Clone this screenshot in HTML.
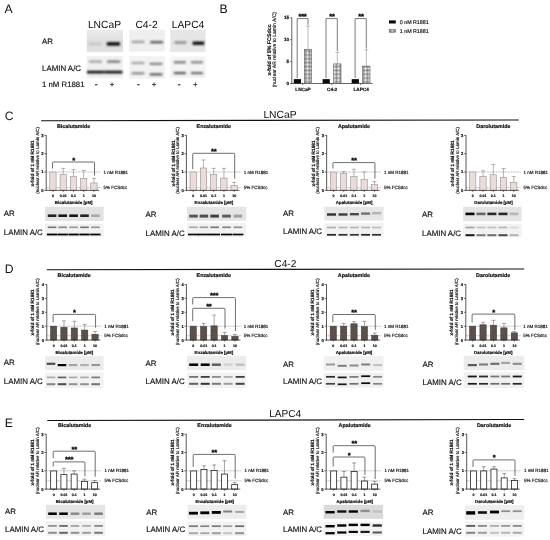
<!DOCTYPE html>
<html lang="en">
<head>
<meta charset="utf-8">
<title>AR nuclear translocation figure</title>
<style>html,body{margin:0;padding:0;background:#fff;}body{width:550px;height:540px;overflow:hidden;}svg{display:block;}</style>
</head>
<body>
<svg width="550" height="540" viewBox="0 0 550 540" font-family="'Liberation Sans', sans-serif" text-rendering="geometricPrecision">
<defs><filter id="b1" x="-10%" y="-50%" width="120%" height="200%"><feGaussianBlur stdDeviation="0.75 0.55"/></filter><filter id="b2" x="-10%" y="-50%" width="120%" height="200%"><feGaussianBlur stdDeviation="1.1 0.8"/></filter><pattern id="hatch" width="1.35" height="1.35" patternUnits="userSpaceOnUse"><rect width="1.35" height="1.35" fill="#fafafa"/><path d="M0 0.3H1.35M0.3 0V1.35" stroke="#555" stroke-width="0.36"/></pattern><linearGradient id="gA" x1="0" y1="0" x2="0" y2="1"><stop offset="0" stop-color="#ececec"/><stop offset="0.55" stop-color="#dedede"/><stop offset="1" stop-color="#e2e2e2"/></linearGradient></defs>
<rect x="0.00" y="0.00" width="550.00" height="540.00" fill="#ffffff"/>
<text x="4.50" y="12.50" font-size="12.2" text-anchor="start" fill="#111">A</text>
<text x="219.40" y="12.50" font-size="12.2" text-anchor="start" fill="#111">B</text>
<text x="4.70" y="120.30" font-size="12.2" text-anchor="start" fill="#111">C</text>
<text x="4.70" y="273.10" font-size="12.2" text-anchor="start" fill="#111">D</text>
<text x="4.70" y="426.60" font-size="12.2" text-anchor="start" fill="#111">E</text>
<text x="104.50" y="27.60" font-size="10.3" text-anchor="middle" fill="#111">LNCaP</text>
<text x="146.60" y="27.60" font-size="10.3" text-anchor="middle" fill="#111">C4-2</text>
<text x="188.00" y="27.60" font-size="10.3" text-anchor="middle" fill="#111">LAPC4</text>
<text x="42.00" y="44.10" font-size="7.9" text-anchor="start" fill="#111" stroke="#111" stroke-width="0.15">AR</text>
<text x="42.00" y="71.20" font-size="7.9" text-anchor="start" fill="#111" stroke="#111" stroke-width="0.15">LAMIN A/C</text>
<text x="42.00" y="87.00" font-size="7.8" text-anchor="start" fill="#111" stroke="#111" stroke-width="0.15">1 nM R1881</text>
<text x="96.20" y="86.90" font-size="8.6" text-anchor="middle" fill="#111" stroke="#111" stroke-width="0.25">-</text>
<text x="138.40" y="86.90" font-size="8.6" text-anchor="middle" fill="#111" stroke="#111" stroke-width="0.25">-</text>
<text x="179.30" y="86.90" font-size="8.6" text-anchor="middle" fill="#111" stroke="#111" stroke-width="0.25">-</text>
<text x="112.00" y="87.40" font-size="7.8" text-anchor="middle" fill="#111" stroke="#111" stroke-width="0.15">+</text>
<text x="154.00" y="87.40" font-size="7.8" text-anchor="middle" fill="#111" stroke="#111" stroke-width="0.15">+</text>
<text x="195.40" y="87.40" font-size="7.8" text-anchor="middle" fill="#111" stroke="#111" stroke-width="0.15">+</text>
<rect x="86.80" y="29.80" width="36.20" height="22.30" fill="url(#gA)"/>
<g filter="url(#b2)">
<rect x="88.50" y="42.70" width="13.00" height="2.40" fill="#050505" opacity="0.12"/>
<rect x="106.90" y="42.25" width="13.00" height="3.30" fill="#050505" opacity="1.00"/>
</g>
<rect x="86.80" y="55.90" width="36.20" height="22.30" fill="#f1f1f1"/>
<g filter="url(#b2)">
<rect x="89.00" y="60.70" width="13.00" height="1.80" fill="#050505" opacity="0.42"/>
<rect x="107.10" y="60.70" width="13.00" height="1.80" fill="#050505" opacity="0.65"/>
<rect x="87.05" y="70.80" width="17.50" height="2.60" fill="#050505" opacity="1.00"/>
<rect x="104.85" y="70.80" width="17.50" height="2.60" fill="#050505" opacity="1.00"/>
</g>
<rect x="129.10" y="29.80" width="35.80" height="21.70" fill="#efefef"/>
<g filter="url(#b2)">
<rect x="131.70" y="40.80" width="12.60" height="2.20" fill="#050505" opacity="0.36"/>
<rect x="150.30" y="41.10" width="12.60" height="2.20" fill="#050505" opacity="0.68"/>
</g>
<rect x="129.10" y="55.90" width="35.80" height="22.90" fill="#f3f3f3"/>
<g filter="url(#b2)">
<rect x="131.70" y="62.00" width="12.60" height="1.80" fill="#050505" opacity="0.42"/>
<rect x="149.70" y="62.90" width="12.60" height="1.80" fill="#050505" opacity="0.58"/>
<rect x="131.70" y="72.30" width="12.60" height="2.00" fill="#050505" opacity="0.50"/>
<rect x="149.70" y="73.40" width="12.60" height="2.00" fill="#050505" opacity="0.72"/>
</g>
<rect x="170.30" y="29.80" width="35.30" height="22.30" fill="#e6e6e6"/>
<g filter="url(#b2)">
<rect x="174.70" y="41.30" width="11.60" height="2.40" fill="#050505" opacity="0.42"/>
<rect x="192.60" y="41.60" width="11.60" height="3.20" fill="#050505" opacity="1.00"/>
</g>
<rect x="170.30" y="56.50" width="35.30" height="21.70" fill="#f4f4f4"/>
<g filter="url(#b2)">
<rect x="173.90" y="61.30" width="12.00" height="2.00" fill="#050505" opacity="0.58"/>
<rect x="191.00" y="61.30" width="12.00" height="2.00" fill="#050505" opacity="0.52"/>
<rect x="173.90" y="72.10" width="12.00" height="2.00" fill="#050505" opacity="0.72"/>
<rect x="191.00" y="72.10" width="12.00" height="2.00" fill="#050505" opacity="0.62"/>
</g>
<line x1="291.80" y1="17.50" x2="291.80" y2="83.80" stroke="#222" stroke-width="0.7"/>
<line x1="291.50" y1="83.50" x2="372.50" y2="83.50" stroke="#222" stroke-width="0.7"/>
<line x1="290.00" y1="83.50" x2="291.80" y2="83.50" stroke="#222" stroke-width="0.6"/>
<text x="289.10" y="85.10" font-size="4.6" font-weight="700" text-anchor="end" fill="#111" stroke="#111" stroke-width="0.2">0</text>
<line x1="290.00" y1="61.60" x2="291.80" y2="61.60" stroke="#222" stroke-width="0.6"/>
<text x="289.10" y="63.20" font-size="4.6" font-weight="700" text-anchor="end" fill="#111" stroke="#111" stroke-width="0.2">5</text>
<line x1="290.00" y1="39.70" x2="291.80" y2="39.70" stroke="#222" stroke-width="0.6"/>
<text x="289.10" y="41.30" font-size="4.6" font-weight="700" text-anchor="end" fill="#111" stroke="#111" stroke-width="0.2">10</text>
<line x1="290.00" y1="17.80" x2="291.80" y2="17.80" stroke="#222" stroke-width="0.6"/>
<text x="289.10" y="19.40" font-size="4.6" font-weight="700" text-anchor="end" fill="#111" stroke="#111" stroke-width="0.2">15</text>
<rect x="293.80" y="79.12" width="7.20" height="4.38" fill="#0c0c0c"/>
<line x1="308.00" y1="49.34" x2="308.00" y2="26.12" stroke="#777" stroke-width="0.5"/>
<line x1="306.00" y1="26.12" x2="310.00" y2="26.12" stroke="#777" stroke-width="0.5"/>
<rect x="304.30" y="49.34" width="7.40" height="34.16" fill="url(#hatch)" stroke="#444" stroke-width="0.5"/>
<line x1="302.65" y1="83.50" x2="302.65" y2="85.10" stroke="#222" stroke-width="0.6"/>
<text x="303.05" y="90.70" font-size="4.7" font-weight="700" text-anchor="middle" fill="#111" stroke="#111" stroke-width="0.2">LNCaP</text>
<path d="M297.20 78.12V18.6H308.00V24.92" fill="none" stroke="#222" stroke-width="0.6"/>
<rect x="322.60" y="79.12" width="7.20" height="4.38" fill="#0c0c0c"/>
<line x1="337.30" y1="63.92" x2="337.30" y2="52.40" stroke="#777" stroke-width="0.5"/>
<line x1="335.30" y1="52.40" x2="339.30" y2="52.40" stroke="#777" stroke-width="0.5"/>
<rect x="333.60" y="63.92" width="7.40" height="19.58" fill="url(#hatch)" stroke="#444" stroke-width="0.5"/>
<line x1="331.70" y1="83.50" x2="331.70" y2="85.10" stroke="#222" stroke-width="0.6"/>
<text x="332.10" y="90.70" font-size="4.7" font-weight="700" text-anchor="middle" fill="#111" stroke="#111" stroke-width="0.2">C4-2</text>
<path d="M326.00 78.12V18.6H337.30V51.20" fill="none" stroke="#222" stroke-width="0.6"/>
<rect x="351.70" y="79.12" width="7.20" height="4.38" fill="#0c0c0c"/>
<line x1="366.30" y1="66.11" x2="366.30" y2="49.77" stroke="#777" stroke-width="0.5"/>
<line x1="364.30" y1="49.77" x2="368.30" y2="49.77" stroke="#777" stroke-width="0.5"/>
<rect x="362.60" y="66.11" width="7.40" height="17.39" fill="url(#hatch)" stroke="#444" stroke-width="0.5"/>
<line x1="360.75" y1="83.50" x2="360.75" y2="85.10" stroke="#222" stroke-width="0.6"/>
<text x="361.15" y="90.70" font-size="4.7" font-weight="700" text-anchor="middle" fill="#111" stroke="#111" stroke-width="0.2">LAPC4</text>
<path d="M355.10 78.12V18.6H366.30V48.57" fill="none" stroke="#222" stroke-width="0.6"/>
<text x="302.50" y="18.60" font-size="7.6" font-weight="700" text-anchor="middle" fill="#000" letter-spacing="-0.3" stroke="#000" stroke-width="0.3">***</text>
<text x="331.90" y="18.60" font-size="7.6" font-weight="700" text-anchor="middle" fill="#000" letter-spacing="-0.3" stroke="#000" stroke-width="0.3">**</text>
<text x="361.00" y="18.60" font-size="7.6" font-weight="700" text-anchor="middle" fill="#000" letter-spacing="-0.3" stroke="#000" stroke-width="0.3">**</text>
<text x="270.60" y="50.00" font-size="5.3" font-weight="700" text-anchor="middle" fill="#111" transform="rotate(-90 270.60 50.00)" stroke="#111" stroke-width="0.2">x-fold of 5% FCSdcc</text>
<text x="276.50" y="49.70" font-size="5.0" text-anchor="middle" fill="#222" transform="rotate(-90 276.50 49.70)" stroke="#222" stroke-width="0.18">(nuclear AR relative to Lamin A/C)</text>
<rect x="389.00" y="20.40" width="6.80" height="3.10" fill="#0c0c0c"/>
<rect x="389.20" y="29.30" width="6.40" height="2.90" fill="url(#hatch)" stroke="#444" stroke-width="0.5"/>
<text x="399.80" y="23.80" font-size="5.3" text-anchor="start" fill="#111" stroke="#222" stroke-width="0.18">0 nM R1881</text>
<text x="399.80" y="32.70" font-size="5.3" text-anchor="start" fill="#111" stroke="#222" stroke-width="0.18">1 nM R1881</text>
<line x1="41.20" y1="120.75" x2="518.80" y2="119.95" stroke="#111" stroke-width="1.15"/>
<text x="280.00" y="117.90" font-size="10.3" text-anchor="middle" fill="#111">LNCaP</text>
<line x1="46.20" y1="172.03" x2="100.60" y2="172.03" stroke="#6a6a6a" stroke-width="0.5" stroke-dasharray="0.9 0.6"/>
<line x1="46.20" y1="187.60" x2="100.60" y2="187.60" stroke="#6a6a6a" stroke-width="0.5" stroke-dasharray="0.9 0.6"/>
<rect x="49.80" y="172.03" width="6.30" height="18.32" fill="#e9dcda" stroke="#8a7f7d" stroke-width="0.5"/>
<line x1="63.25" y1="174.41" x2="63.25" y2="168.37" stroke="#7a7472" stroke-width="0.55"/>
<line x1="61.25" y1="168.37" x2="65.25" y2="168.37" stroke="#7a7472" stroke-width="0.55"/>
<rect x="60.05" y="174.41" width="6.30" height="15.94" fill="#e9dcda" stroke="#8a7f7d" stroke-width="0.5"/>
<line x1="73.50" y1="176.61" x2="73.50" y2="169.65" stroke="#7a7472" stroke-width="0.55"/>
<line x1="71.50" y1="169.65" x2="75.50" y2="169.65" stroke="#7a7472" stroke-width="0.55"/>
<rect x="70.30" y="176.61" width="6.30" height="13.74" fill="#e9dcda" stroke="#8a7f7d" stroke-width="0.5"/>
<line x1="83.75" y1="178.26" x2="83.75" y2="170.56" stroke="#7a7472" stroke-width="0.55"/>
<line x1="81.75" y1="170.56" x2="85.75" y2="170.56" stroke="#7a7472" stroke-width="0.55"/>
<rect x="80.55" y="178.26" width="6.30" height="12.09" fill="#e9dcda" stroke="#8a7f7d" stroke-width="0.5"/>
<line x1="94.00" y1="183.02" x2="94.00" y2="178.44" stroke="#7a7472" stroke-width="0.55"/>
<line x1="92.00" y1="178.44" x2="96.00" y2="178.44" stroke="#7a7472" stroke-width="0.55"/>
<rect x="90.80" y="183.02" width="6.30" height="7.33" fill="#e9dcda" stroke="#8a7f7d" stroke-width="0.5"/>
<line x1="46.20" y1="135.09" x2="46.20" y2="190.70" stroke="#222" stroke-width="0.75"/>
<line x1="45.85" y1="190.35" x2="99.20" y2="190.35" stroke="#222" stroke-width="0.75"/>
<line x1="44.30" y1="190.35" x2="46.20" y2="190.35" stroke="#222" stroke-width="0.65"/>
<text x="43.50" y="191.80" font-size="4.1" font-weight="700" text-anchor="end" fill="#111" stroke="#111" stroke-width="0.2">0</text>
<line x1="44.30" y1="172.03" x2="46.20" y2="172.03" stroke="#222" stroke-width="0.65"/>
<text x="43.50" y="173.48" font-size="4.1" font-weight="700" text-anchor="end" fill="#111" stroke="#111" stroke-width="0.2">1</text>
<line x1="44.30" y1="153.71" x2="46.20" y2="153.71" stroke="#222" stroke-width="0.65"/>
<text x="43.50" y="155.16" font-size="4.1" font-weight="700" text-anchor="end" fill="#111" stroke="#111" stroke-width="0.2">2</text>
<line x1="44.30" y1="135.39" x2="46.20" y2="135.39" stroke="#222" stroke-width="0.65"/>
<text x="43.50" y="136.84" font-size="4.1" font-weight="700" text-anchor="end" fill="#111" stroke="#111" stroke-width="0.2">3</text>
<line x1="53.00" y1="190.35" x2="53.00" y2="191.85" stroke="#222" stroke-width="0.65"/>
<text x="53.00" y="196.85" font-size="3.6" font-weight="700" text-anchor="middle" fill="#111" stroke="#111" stroke-width="0.2">0</text>
<line x1="63.25" y1="190.35" x2="63.25" y2="191.85" stroke="#222" stroke-width="0.65"/>
<text x="63.25" y="196.85" font-size="3.6" font-weight="700" text-anchor="middle" fill="#111" stroke="#111" stroke-width="0.2">0.01</text>
<line x1="73.50" y1="190.35" x2="73.50" y2="191.85" stroke="#222" stroke-width="0.65"/>
<text x="73.50" y="196.85" font-size="3.6" font-weight="700" text-anchor="middle" fill="#111" stroke="#111" stroke-width="0.2">0.1</text>
<line x1="83.75" y1="190.35" x2="83.75" y2="191.85" stroke="#222" stroke-width="0.65"/>
<text x="83.75" y="196.85" font-size="3.6" font-weight="700" text-anchor="middle" fill="#111" stroke="#111" stroke-width="0.2">1</text>
<line x1="94.00" y1="190.35" x2="94.00" y2="191.85" stroke="#222" stroke-width="0.65"/>
<text x="94.00" y="196.85" font-size="3.6" font-weight="700" text-anchor="middle" fill="#111" stroke="#111" stroke-width="0.2">10</text>
<text x="73.70" y="204.35" font-size="4.4" font-weight="700" text-anchor="middle" fill="#111" stroke="#111" stroke-width="0.2">Bicalutamide [µM]</text>
<text x="73.60" y="127.60" font-size="5.35" font-weight="700" text-anchor="middle" fill="#111" stroke="#111" stroke-width="0.2">Bicalutamide</text>
<text x="34.40" y="163.50" font-size="4.75" font-weight="700" text-anchor="middle" fill="#111" transform="rotate(-90 34.40 163.50)" stroke="#111" stroke-width="0.2">x-fold of 1 nM R1881</text>
<text x="39.00" y="160.40" font-size="4.45" text-anchor="middle" fill="#222" transform="rotate(-90 39.00 160.40)" stroke="#222" stroke-width="0.18">(nuclear AR relative to Lamin A/C)</text>
<text x="103.60" y="173.58" font-size="4.5" text-anchor="start" fill="#111" stroke="#222" stroke-width="0.18">1 nM R1881</text>
<text x="103.60" y="189.15" font-size="4.5" text-anchor="start" fill="#111" stroke="#222" stroke-width="0.18">5% FCSdcc</text>
<path d="M52.50 168.50V162.90Q52.50 162.00 53.40 162.00H93.60Q94.50 162.00 94.50 162.90V175.40" fill="none" stroke="#222" stroke-width="0.65"/>
<text x="73.50" y="162.50" font-size="7.6" font-weight="700" text-anchor="middle" fill="#000" letter-spacing="-0.3" stroke="#000" stroke-width="0.3">*</text>
<line x1="186.40" y1="172.03" x2="240.80" y2="172.03" stroke="#6a6a6a" stroke-width="0.5" stroke-dasharray="0.9 0.6"/>
<line x1="186.40" y1="187.60" x2="240.80" y2="187.60" stroke="#6a6a6a" stroke-width="0.5" stroke-dasharray="0.9 0.6"/>
<rect x="190.00" y="172.03" width="6.30" height="18.32" fill="#e9dcda" stroke="#8a7f7d" stroke-width="0.5"/>
<line x1="203.45" y1="168.00" x2="203.45" y2="159.94" stroke="#7a7472" stroke-width="0.55"/>
<line x1="201.45" y1="159.94" x2="205.45" y2="159.94" stroke="#7a7472" stroke-width="0.55"/>
<rect x="200.25" y="168.00" width="6.30" height="22.35" fill="#e9dcda" stroke="#8a7f7d" stroke-width="0.5"/>
<line x1="213.70" y1="174.50" x2="213.70" y2="168.37" stroke="#7a7472" stroke-width="0.55"/>
<line x1="211.70" y1="168.37" x2="215.70" y2="168.37" stroke="#7a7472" stroke-width="0.55"/>
<rect x="210.50" y="174.50" width="6.30" height="15.85" fill="#e9dcda" stroke="#8a7f7d" stroke-width="0.5"/>
<line x1="223.95" y1="178.08" x2="223.95" y2="168.37" stroke="#7a7472" stroke-width="0.55"/>
<line x1="221.95" y1="168.37" x2="225.95" y2="168.37" stroke="#7a7472" stroke-width="0.55"/>
<rect x="220.75" y="178.08" width="6.30" height="12.27" fill="#e9dcda" stroke="#8a7f7d" stroke-width="0.5"/>
<line x1="234.20" y1="185.50" x2="234.20" y2="182.47" stroke="#7a7472" stroke-width="0.55"/>
<line x1="232.20" y1="182.47" x2="236.20" y2="182.47" stroke="#7a7472" stroke-width="0.55"/>
<rect x="231.00" y="185.50" width="6.30" height="4.85" fill="#e9dcda" stroke="#8a7f7d" stroke-width="0.5"/>
<line x1="186.40" y1="135.09" x2="186.40" y2="190.70" stroke="#222" stroke-width="0.75"/>
<line x1="186.05" y1="190.35" x2="239.40" y2="190.35" stroke="#222" stroke-width="0.75"/>
<line x1="184.50" y1="190.35" x2="186.40" y2="190.35" stroke="#222" stroke-width="0.65"/>
<text x="183.70" y="191.80" font-size="4.1" font-weight="700" text-anchor="end" fill="#111" stroke="#111" stroke-width="0.2">0</text>
<line x1="184.50" y1="172.03" x2="186.40" y2="172.03" stroke="#222" stroke-width="0.65"/>
<text x="183.70" y="173.48" font-size="4.1" font-weight="700" text-anchor="end" fill="#111" stroke="#111" stroke-width="0.2">1</text>
<line x1="184.50" y1="153.71" x2="186.40" y2="153.71" stroke="#222" stroke-width="0.65"/>
<text x="183.70" y="155.16" font-size="4.1" font-weight="700" text-anchor="end" fill="#111" stroke="#111" stroke-width="0.2">2</text>
<line x1="184.50" y1="135.39" x2="186.40" y2="135.39" stroke="#222" stroke-width="0.65"/>
<text x="183.70" y="136.84" font-size="4.1" font-weight="700" text-anchor="end" fill="#111" stroke="#111" stroke-width="0.2">3</text>
<line x1="193.20" y1="190.35" x2="193.20" y2="191.85" stroke="#222" stroke-width="0.65"/>
<text x="193.20" y="196.85" font-size="3.6" font-weight="700" text-anchor="middle" fill="#111" stroke="#111" stroke-width="0.2">0</text>
<line x1="203.45" y1="190.35" x2="203.45" y2="191.85" stroke="#222" stroke-width="0.65"/>
<text x="203.45" y="196.85" font-size="3.6" font-weight="700" text-anchor="middle" fill="#111" stroke="#111" stroke-width="0.2">0.01</text>
<line x1="213.70" y1="190.35" x2="213.70" y2="191.85" stroke="#222" stroke-width="0.65"/>
<text x="213.70" y="196.85" font-size="3.6" font-weight="700" text-anchor="middle" fill="#111" stroke="#111" stroke-width="0.2">0.1</text>
<line x1="223.95" y1="190.35" x2="223.95" y2="191.85" stroke="#222" stroke-width="0.65"/>
<text x="223.95" y="196.85" font-size="3.6" font-weight="700" text-anchor="middle" fill="#111" stroke="#111" stroke-width="0.2">1</text>
<line x1="234.20" y1="190.35" x2="234.20" y2="191.85" stroke="#222" stroke-width="0.65"/>
<text x="234.20" y="196.85" font-size="3.6" font-weight="700" text-anchor="middle" fill="#111" stroke="#111" stroke-width="0.2">10</text>
<text x="213.90" y="204.35" font-size="4.4" font-weight="700" text-anchor="middle" fill="#111" stroke="#111" stroke-width="0.2">Enzalutamide [µM]</text>
<text x="213.80" y="127.60" font-size="5.35" font-weight="700" text-anchor="middle" fill="#111" stroke="#111" stroke-width="0.2">Enzalutamide</text>
<text x="174.60" y="163.50" font-size="4.75" font-weight="700" text-anchor="middle" fill="#111" transform="rotate(-90 174.60 163.50)" stroke="#111" stroke-width="0.2">x-fold of 1 nM R1881</text>
<text x="179.20" y="160.40" font-size="4.45" text-anchor="middle" fill="#222" transform="rotate(-90 179.20 160.40)" stroke="#222" stroke-width="0.18">(nuclear AR relative to Lamin A/C)</text>
<text x="243.80" y="173.58" font-size="4.5" text-anchor="start" fill="#111" stroke="#222" stroke-width="0.18">1 nM R1881</text>
<text x="243.80" y="189.15" font-size="4.5" text-anchor="start" fill="#111" stroke="#222" stroke-width="0.18">5% FCSdcc</text>
<path d="M192.70 169.00V154.20Q192.70 153.30 193.60 153.30H233.80Q234.70 153.30 234.70 154.20V178.70" fill="none" stroke="#222" stroke-width="0.65"/>
<text x="213.70" y="153.80" font-size="7.6" font-weight="700" text-anchor="middle" fill="#000" letter-spacing="-0.3" stroke="#000" stroke-width="0.3">**</text>
<line x1="326.65" y1="172.03" x2="381.05" y2="172.03" stroke="#6a6a6a" stroke-width="0.5" stroke-dasharray="0.9 0.6"/>
<line x1="326.65" y1="187.60" x2="381.05" y2="187.60" stroke="#6a6a6a" stroke-width="0.5" stroke-dasharray="0.9 0.6"/>
<rect x="330.25" y="172.03" width="6.30" height="18.32" fill="#e9dcda" stroke="#8a7f7d" stroke-width="0.5"/>
<line x1="343.70" y1="173.59" x2="343.70" y2="171.48" stroke="#7a7472" stroke-width="0.55"/>
<line x1="341.70" y1="171.48" x2="345.70" y2="171.48" stroke="#7a7472" stroke-width="0.55"/>
<rect x="340.50" y="173.59" width="6.30" height="16.76" fill="#e9dcda" stroke="#8a7f7d" stroke-width="0.5"/>
<line x1="353.95" y1="176.34" x2="353.95" y2="169.28" stroke="#7a7472" stroke-width="0.55"/>
<line x1="351.95" y1="169.28" x2="355.95" y2="169.28" stroke="#7a7472" stroke-width="0.55"/>
<rect x="350.75" y="176.34" width="6.30" height="14.01" fill="#e9dcda" stroke="#8a7f7d" stroke-width="0.5"/>
<line x1="364.20" y1="179.36" x2="364.20" y2="172.03" stroke="#7a7472" stroke-width="0.55"/>
<line x1="362.20" y1="172.03" x2="366.20" y2="172.03" stroke="#7a7472" stroke-width="0.55"/>
<rect x="361.00" y="179.36" width="6.30" height="10.99" fill="#e9dcda" stroke="#8a7f7d" stroke-width="0.5"/>
<line x1="374.45" y1="184.67" x2="374.45" y2="181.56" stroke="#7a7472" stroke-width="0.55"/>
<line x1="372.45" y1="181.56" x2="376.45" y2="181.56" stroke="#7a7472" stroke-width="0.55"/>
<rect x="371.25" y="184.67" width="6.30" height="5.68" fill="#e9dcda" stroke="#8a7f7d" stroke-width="0.5"/>
<line x1="326.65" y1="135.09" x2="326.65" y2="190.70" stroke="#222" stroke-width="0.75"/>
<line x1="326.30" y1="190.35" x2="379.65" y2="190.35" stroke="#222" stroke-width="0.75"/>
<line x1="324.75" y1="190.35" x2="326.65" y2="190.35" stroke="#222" stroke-width="0.65"/>
<text x="323.95" y="191.80" font-size="4.1" font-weight="700" text-anchor="end" fill="#111" stroke="#111" stroke-width="0.2">0</text>
<line x1="324.75" y1="172.03" x2="326.65" y2="172.03" stroke="#222" stroke-width="0.65"/>
<text x="323.95" y="173.48" font-size="4.1" font-weight="700" text-anchor="end" fill="#111" stroke="#111" stroke-width="0.2">1</text>
<line x1="324.75" y1="153.71" x2="326.65" y2="153.71" stroke="#222" stroke-width="0.65"/>
<text x="323.95" y="155.16" font-size="4.1" font-weight="700" text-anchor="end" fill="#111" stroke="#111" stroke-width="0.2">2</text>
<line x1="324.75" y1="135.39" x2="326.65" y2="135.39" stroke="#222" stroke-width="0.65"/>
<text x="323.95" y="136.84" font-size="4.1" font-weight="700" text-anchor="end" fill="#111" stroke="#111" stroke-width="0.2">3</text>
<line x1="333.45" y1="190.35" x2="333.45" y2="191.85" stroke="#222" stroke-width="0.65"/>
<text x="333.45" y="196.85" font-size="3.6" font-weight="700" text-anchor="middle" fill="#111" stroke="#111" stroke-width="0.2">0</text>
<line x1="343.70" y1="190.35" x2="343.70" y2="191.85" stroke="#222" stroke-width="0.65"/>
<text x="343.70" y="196.85" font-size="3.6" font-weight="700" text-anchor="middle" fill="#111" stroke="#111" stroke-width="0.2">0.01</text>
<line x1="353.95" y1="190.35" x2="353.95" y2="191.85" stroke="#222" stroke-width="0.65"/>
<text x="353.95" y="196.85" font-size="3.6" font-weight="700" text-anchor="middle" fill="#111" stroke="#111" stroke-width="0.2">0.1</text>
<line x1="364.20" y1="190.35" x2="364.20" y2="191.85" stroke="#222" stroke-width="0.65"/>
<text x="364.20" y="196.85" font-size="3.6" font-weight="700" text-anchor="middle" fill="#111" stroke="#111" stroke-width="0.2">1</text>
<line x1="374.45" y1="190.35" x2="374.45" y2="191.85" stroke="#222" stroke-width="0.65"/>
<text x="374.45" y="196.85" font-size="3.6" font-weight="700" text-anchor="middle" fill="#111" stroke="#111" stroke-width="0.2">10</text>
<text x="354.15" y="204.35" font-size="4.4" font-weight="700" text-anchor="middle" fill="#111" stroke="#111" stroke-width="0.2">Apalutamide [µM]</text>
<text x="354.05" y="127.60" font-size="5.35" font-weight="700" text-anchor="middle" fill="#111" stroke="#111" stroke-width="0.2">Apalutamide</text>
<text x="314.85" y="163.50" font-size="4.75" font-weight="700" text-anchor="middle" fill="#111" transform="rotate(-90 314.85 163.50)" stroke="#111" stroke-width="0.2">x-fold of 1 nM R1881</text>
<text x="319.45" y="160.40" font-size="4.45" text-anchor="middle" fill="#222" transform="rotate(-90 319.45 160.40)" stroke="#222" stroke-width="0.18">(nuclear AR relative to Lamin A/C)</text>
<text x="384.05" y="173.58" font-size="4.5" text-anchor="start" fill="#111" stroke="#222" stroke-width="0.18">1 nM R1881</text>
<text x="384.05" y="189.15" font-size="4.5" text-anchor="start" fill="#111" stroke="#222" stroke-width="0.18">5% FCSdcc</text>
<path d="M332.95 168.50V163.50Q332.95 162.60 333.85 162.60H374.05Q374.95 162.60 374.95 163.50V178.70" fill="none" stroke="#222" stroke-width="0.65"/>
<text x="353.95" y="163.10" font-size="7.6" font-weight="700" text-anchor="middle" fill="#000" letter-spacing="-0.3" stroke="#000" stroke-width="0.3">**</text>
<line x1="466.00" y1="172.03" x2="520.40" y2="172.03" stroke="#6a6a6a" stroke-width="0.5" stroke-dasharray="0.9 0.6"/>
<line x1="466.00" y1="187.60" x2="520.40" y2="187.60" stroke="#6a6a6a" stroke-width="0.5" stroke-dasharray="0.9 0.6"/>
<rect x="469.60" y="172.03" width="6.30" height="18.32" fill="#e9dcda" stroke="#8a7f7d" stroke-width="0.5"/>
<line x1="483.05" y1="176.24" x2="483.05" y2="170.75" stroke="#7a7472" stroke-width="0.55"/>
<line x1="481.05" y1="170.75" x2="485.05" y2="170.75" stroke="#7a7472" stroke-width="0.55"/>
<rect x="479.85" y="176.24" width="6.30" height="14.11" fill="#e9dcda" stroke="#8a7f7d" stroke-width="0.5"/>
<line x1="493.30" y1="174.78" x2="493.30" y2="164.52" stroke="#7a7472" stroke-width="0.55"/>
<line x1="491.30" y1="164.52" x2="495.30" y2="164.52" stroke="#7a7472" stroke-width="0.55"/>
<rect x="490.10" y="174.78" width="6.30" height="15.57" fill="#e9dcda" stroke="#8a7f7d" stroke-width="0.5"/>
<line x1="503.55" y1="177.34" x2="503.55" y2="168.55" stroke="#7a7472" stroke-width="0.55"/>
<line x1="501.55" y1="168.55" x2="505.55" y2="168.55" stroke="#7a7472" stroke-width="0.55"/>
<rect x="500.35" y="177.34" width="6.30" height="13.01" fill="#e9dcda" stroke="#8a7f7d" stroke-width="0.5"/>
<line x1="513.80" y1="182.29" x2="513.80" y2="176.61" stroke="#7a7472" stroke-width="0.55"/>
<line x1="511.80" y1="176.61" x2="515.80" y2="176.61" stroke="#7a7472" stroke-width="0.55"/>
<rect x="510.60" y="182.29" width="6.30" height="8.06" fill="#e9dcda" stroke="#8a7f7d" stroke-width="0.5"/>
<line x1="466.00" y1="135.09" x2="466.00" y2="190.70" stroke="#222" stroke-width="0.75"/>
<line x1="465.65" y1="190.35" x2="519.00" y2="190.35" stroke="#222" stroke-width="0.75"/>
<line x1="464.10" y1="190.35" x2="466.00" y2="190.35" stroke="#222" stroke-width="0.65"/>
<text x="463.30" y="191.80" font-size="4.1" font-weight="700" text-anchor="end" fill="#111" stroke="#111" stroke-width="0.2">0</text>
<line x1="464.10" y1="172.03" x2="466.00" y2="172.03" stroke="#222" stroke-width="0.65"/>
<text x="463.30" y="173.48" font-size="4.1" font-weight="700" text-anchor="end" fill="#111" stroke="#111" stroke-width="0.2">1</text>
<line x1="464.10" y1="153.71" x2="466.00" y2="153.71" stroke="#222" stroke-width="0.65"/>
<text x="463.30" y="155.16" font-size="4.1" font-weight="700" text-anchor="end" fill="#111" stroke="#111" stroke-width="0.2">2</text>
<line x1="464.10" y1="135.39" x2="466.00" y2="135.39" stroke="#222" stroke-width="0.65"/>
<text x="463.30" y="136.84" font-size="4.1" font-weight="700" text-anchor="end" fill="#111" stroke="#111" stroke-width="0.2">3</text>
<line x1="472.80" y1="190.35" x2="472.80" y2="191.85" stroke="#222" stroke-width="0.65"/>
<text x="472.80" y="196.85" font-size="3.6" font-weight="700" text-anchor="middle" fill="#111" stroke="#111" stroke-width="0.2">0</text>
<line x1="483.05" y1="190.35" x2="483.05" y2="191.85" stroke="#222" stroke-width="0.65"/>
<text x="483.05" y="196.85" font-size="3.6" font-weight="700" text-anchor="middle" fill="#111" stroke="#111" stroke-width="0.2">0.01</text>
<line x1="493.30" y1="190.35" x2="493.30" y2="191.85" stroke="#222" stroke-width="0.65"/>
<text x="493.30" y="196.85" font-size="3.6" font-weight="700" text-anchor="middle" fill="#111" stroke="#111" stroke-width="0.2">0.1</text>
<line x1="503.55" y1="190.35" x2="503.55" y2="191.85" stroke="#222" stroke-width="0.65"/>
<text x="503.55" y="196.85" font-size="3.6" font-weight="700" text-anchor="middle" fill="#111" stroke="#111" stroke-width="0.2">1</text>
<line x1="513.80" y1="190.35" x2="513.80" y2="191.85" stroke="#222" stroke-width="0.65"/>
<text x="513.80" y="196.85" font-size="3.6" font-weight="700" text-anchor="middle" fill="#111" stroke="#111" stroke-width="0.2">10</text>
<text x="493.50" y="204.35" font-size="4.4" font-weight="700" text-anchor="middle" fill="#111" stroke="#111" stroke-width="0.2">Darolutamide [µM]</text>
<text x="493.40" y="127.60" font-size="5.35" font-weight="700" text-anchor="middle" fill="#111" stroke="#111" stroke-width="0.2">Darolutamide</text>
<text x="454.20" y="163.50" font-size="4.75" font-weight="700" text-anchor="middle" fill="#111" transform="rotate(-90 454.20 163.50)" stroke="#111" stroke-width="0.2">x-fold of 1 nM R1881</text>
<text x="458.80" y="160.40" font-size="4.45" text-anchor="middle" fill="#222" transform="rotate(-90 458.80 160.40)" stroke="#222" stroke-width="0.18">(nuclear AR relative to Lamin A/C)</text>
<text x="523.40" y="173.58" font-size="4.5" text-anchor="start" fill="#111" stroke="#222" stroke-width="0.18">1 nM R1881</text>
<text x="523.40" y="189.15" font-size="4.5" text-anchor="start" fill="#111" stroke="#222" stroke-width="0.18">5% FCSdcc</text>
<line x1="46.90" y1="269.75" x2="524.20" y2="269.00" stroke="#111" stroke-width="1.15"/>
<text x="285.40" y="266.50" font-size="10.2" text-anchor="middle" fill="#111">C4-2</text>
<line x1="46.80" y1="326.16" x2="101.80" y2="326.16" stroke="#6a6a6a" stroke-width="0.5" stroke-dasharray="0.9 0.6"/>
<line x1="46.80" y1="335.74" x2="101.80" y2="335.74" stroke="#6a6a6a" stroke-width="0.5" stroke-dasharray="0.9 0.6"/>
<rect x="50.44" y="326.16" width="6.30" height="13.89" fill="#5b504c" stroke="#3f3633" stroke-width="0.5"/>
<line x1="64.00" y1="327.20" x2="64.00" y2="320.88" stroke="#6a605c" stroke-width="0.55"/>
<line x1="62.00" y1="320.88" x2="66.00" y2="320.88" stroke="#6a605c" stroke-width="0.55"/>
<rect x="60.80" y="327.20" width="6.30" height="12.85" fill="#5b504c" stroke="#3f3633" stroke-width="0.5"/>
<line x1="74.36" y1="327.97" x2="74.36" y2="321.30" stroke="#6a605c" stroke-width="0.55"/>
<line x1="72.36" y1="321.30" x2="76.36" y2="321.30" stroke="#6a605c" stroke-width="0.55"/>
<rect x="71.16" y="327.97" width="6.30" height="12.08" fill="#5b504c" stroke="#3f3633" stroke-width="0.5"/>
<line x1="84.73" y1="330.05" x2="84.73" y2="324.49" stroke="#6a605c" stroke-width="0.55"/>
<line x1="82.73" y1="324.49" x2="86.73" y2="324.49" stroke="#6a605c" stroke-width="0.55"/>
<rect x="81.53" y="330.05" width="6.30" height="10.00" fill="#5b504c" stroke="#3f3633" stroke-width="0.5"/>
<line x1="95.09" y1="334.22" x2="95.09" y2="331.44" stroke="#6a605c" stroke-width="0.55"/>
<line x1="93.09" y1="331.44" x2="97.09" y2="331.44" stroke="#6a605c" stroke-width="0.55"/>
<rect x="91.89" y="334.22" width="6.30" height="5.83" fill="#5b504c" stroke="#3f3633" stroke-width="0.5"/>
<line x1="46.80" y1="284.19" x2="46.80" y2="340.40" stroke="#222" stroke-width="0.75"/>
<line x1="46.45" y1="340.05" x2="100.38" y2="340.05" stroke="#222" stroke-width="0.75"/>
<line x1="44.90" y1="340.05" x2="46.80" y2="340.05" stroke="#222" stroke-width="0.65"/>
<text x="44.10" y="341.50" font-size="4.1" font-weight="700" text-anchor="end" fill="#111" stroke="#111" stroke-width="0.2">0</text>
<line x1="44.90" y1="326.16" x2="46.80" y2="326.16" stroke="#222" stroke-width="0.65"/>
<text x="44.10" y="327.61" font-size="4.1" font-weight="700" text-anchor="end" fill="#111" stroke="#111" stroke-width="0.2">1</text>
<line x1="44.90" y1="312.27" x2="46.80" y2="312.27" stroke="#222" stroke-width="0.65"/>
<text x="44.10" y="313.72" font-size="4.1" font-weight="700" text-anchor="end" fill="#111" stroke="#111" stroke-width="0.2">2</text>
<line x1="44.90" y1="298.38" x2="46.80" y2="298.38" stroke="#222" stroke-width="0.65"/>
<text x="44.10" y="299.83" font-size="4.1" font-weight="700" text-anchor="end" fill="#111" stroke="#111" stroke-width="0.2">3</text>
<line x1="44.90" y1="284.49" x2="46.80" y2="284.49" stroke="#222" stroke-width="0.65"/>
<text x="44.10" y="285.94" font-size="4.1" font-weight="700" text-anchor="end" fill="#111" stroke="#111" stroke-width="0.2">4</text>
<line x1="53.64" y1="340.05" x2="53.64" y2="341.55" stroke="#222" stroke-width="0.65"/>
<text x="53.64" y="346.55" font-size="3.6" font-weight="700" text-anchor="middle" fill="#111" stroke="#111" stroke-width="0.2">0</text>
<line x1="64.00" y1="340.05" x2="64.00" y2="341.55" stroke="#222" stroke-width="0.65"/>
<text x="64.00" y="346.55" font-size="3.6" font-weight="700" text-anchor="middle" fill="#111" stroke="#111" stroke-width="0.2">0.01</text>
<line x1="74.36" y1="340.05" x2="74.36" y2="341.55" stroke="#222" stroke-width="0.65"/>
<text x="74.36" y="346.55" font-size="3.6" font-weight="700" text-anchor="middle" fill="#111" stroke="#111" stroke-width="0.2">0.1</text>
<line x1="84.73" y1="340.05" x2="84.73" y2="341.55" stroke="#222" stroke-width="0.65"/>
<text x="84.73" y="346.55" font-size="3.6" font-weight="700" text-anchor="middle" fill="#111" stroke="#111" stroke-width="0.2">1</text>
<line x1="95.09" y1="340.05" x2="95.09" y2="341.55" stroke="#222" stroke-width="0.65"/>
<text x="95.09" y="346.55" font-size="3.6" font-weight="700" text-anchor="middle" fill="#111" stroke="#111" stroke-width="0.2">10</text>
<text x="74.30" y="354.05" font-size="4.4" font-weight="700" text-anchor="middle" fill="#111" stroke="#111" stroke-width="0.2">Bicalutamide [µM]</text>
<text x="74.20" y="276.90" font-size="5.35" font-weight="700" text-anchor="middle" fill="#111" stroke="#111" stroke-width="0.2">Bicalutamide</text>
<text x="34.10" y="312.50" font-size="4.75" font-weight="700" text-anchor="middle" fill="#111" transform="rotate(-90 34.10 312.50)" stroke="#111" stroke-width="0.2">x-fold of 1 nM R1881</text>
<text x="39.00" y="311.70" font-size="4.45" text-anchor="middle" fill="#222" transform="rotate(-90 39.00 311.70)" stroke="#222" stroke-width="0.18">(nuclear AR relative to Lamin A/C)</text>
<text x="104.20" y="327.71" font-size="4.5" text-anchor="start" fill="#111" stroke="#222" stroke-width="0.18">1 nM R1881</text>
<text x="104.20" y="337.29" font-size="4.5" text-anchor="start" fill="#111" stroke="#222" stroke-width="0.18">5% FCSdcc</text>
<path d="M53.10 322.20V315.30Q53.10 314.40 54.00 314.40H94.65Q95.55 314.40 95.55 315.30V327.60" fill="none" stroke="#222" stroke-width="0.65"/>
<text x="74.33" y="314.90" font-size="7.6" font-weight="700" text-anchor="middle" fill="#000" letter-spacing="-0.3" stroke="#000" stroke-width="0.3">*</text>
<line x1="186.40" y1="326.16" x2="241.78" y2="326.16" stroke="#6a6a6a" stroke-width="0.5" stroke-dasharray="0.9 0.6"/>
<line x1="186.40" y1="335.74" x2="241.78" y2="335.74" stroke="#6a6a6a" stroke-width="0.5" stroke-dasharray="0.9 0.6"/>
<rect x="190.06" y="326.16" width="6.30" height="13.89" fill="#5b504c" stroke="#3f3633" stroke-width="0.5"/>
<line x1="203.70" y1="326.44" x2="203.70" y2="323.38" stroke="#6a605c" stroke-width="0.55"/>
<line x1="201.70" y1="323.38" x2="205.70" y2="323.38" stroke="#6a605c" stroke-width="0.55"/>
<rect x="200.50" y="326.44" width="6.30" height="13.61" fill="#5b504c" stroke="#3f3633" stroke-width="0.5"/>
<line x1="214.13" y1="325.88" x2="214.13" y2="315.05" stroke="#6a605c" stroke-width="0.55"/>
<line x1="212.13" y1="315.05" x2="216.13" y2="315.05" stroke="#6a605c" stroke-width="0.55"/>
<rect x="210.93" y="325.88" width="6.30" height="14.17" fill="#5b504c" stroke="#3f3633" stroke-width="0.5"/>
<line x1="224.57" y1="335.47" x2="224.57" y2="332.41" stroke="#6a605c" stroke-width="0.55"/>
<line x1="222.57" y1="332.41" x2="226.57" y2="332.41" stroke="#6a605c" stroke-width="0.55"/>
<rect x="221.37" y="335.47" width="6.30" height="4.58" fill="#5b504c" stroke="#3f3633" stroke-width="0.5"/>
<line x1="235.00" y1="336.30" x2="235.00" y2="334.49" stroke="#6a605c" stroke-width="0.55"/>
<line x1="233.00" y1="334.49" x2="237.00" y2="334.49" stroke="#6a605c" stroke-width="0.55"/>
<rect x="231.80" y="336.30" width="6.30" height="3.75" fill="#5b504c" stroke="#3f3633" stroke-width="0.5"/>
<line x1="186.40" y1="284.19" x2="186.40" y2="340.40" stroke="#222" stroke-width="0.75"/>
<line x1="186.05" y1="340.05" x2="240.35" y2="340.05" stroke="#222" stroke-width="0.75"/>
<line x1="184.50" y1="340.05" x2="186.40" y2="340.05" stroke="#222" stroke-width="0.65"/>
<text x="183.70" y="341.50" font-size="4.1" font-weight="700" text-anchor="end" fill="#111" stroke="#111" stroke-width="0.2">0</text>
<line x1="184.50" y1="326.16" x2="186.40" y2="326.16" stroke="#222" stroke-width="0.65"/>
<text x="183.70" y="327.61" font-size="4.1" font-weight="700" text-anchor="end" fill="#111" stroke="#111" stroke-width="0.2">1</text>
<line x1="184.50" y1="312.27" x2="186.40" y2="312.27" stroke="#222" stroke-width="0.65"/>
<text x="183.70" y="313.72" font-size="4.1" font-weight="700" text-anchor="end" fill="#111" stroke="#111" stroke-width="0.2">2</text>
<line x1="184.50" y1="298.38" x2="186.40" y2="298.38" stroke="#222" stroke-width="0.65"/>
<text x="183.70" y="299.83" font-size="4.1" font-weight="700" text-anchor="end" fill="#111" stroke="#111" stroke-width="0.2">3</text>
<line x1="184.50" y1="284.49" x2="186.40" y2="284.49" stroke="#222" stroke-width="0.65"/>
<text x="183.70" y="285.94" font-size="4.1" font-weight="700" text-anchor="end" fill="#111" stroke="#111" stroke-width="0.2">4</text>
<line x1="193.26" y1="340.05" x2="193.26" y2="341.55" stroke="#222" stroke-width="0.65"/>
<text x="193.26" y="346.55" font-size="3.6" font-weight="700" text-anchor="middle" fill="#111" stroke="#111" stroke-width="0.2">0</text>
<line x1="203.70" y1="340.05" x2="203.70" y2="341.55" stroke="#222" stroke-width="0.65"/>
<text x="203.70" y="346.55" font-size="3.6" font-weight="700" text-anchor="middle" fill="#111" stroke="#111" stroke-width="0.2">0.01</text>
<line x1="214.13" y1="340.05" x2="214.13" y2="341.55" stroke="#222" stroke-width="0.65"/>
<text x="214.13" y="346.55" font-size="3.6" font-weight="700" text-anchor="middle" fill="#111" stroke="#111" stroke-width="0.2">0.1</text>
<line x1="224.57" y1="340.05" x2="224.57" y2="341.55" stroke="#222" stroke-width="0.65"/>
<text x="224.57" y="346.55" font-size="3.6" font-weight="700" text-anchor="middle" fill="#111" stroke="#111" stroke-width="0.2">1</text>
<line x1="235.00" y1="340.05" x2="235.00" y2="341.55" stroke="#222" stroke-width="0.65"/>
<text x="235.00" y="346.55" font-size="3.6" font-weight="700" text-anchor="middle" fill="#111" stroke="#111" stroke-width="0.2">10</text>
<text x="213.90" y="354.05" font-size="4.4" font-weight="700" text-anchor="middle" fill="#111" stroke="#111" stroke-width="0.2">Enzalutamide [µM]</text>
<text x="213.80" y="276.90" font-size="5.35" font-weight="700" text-anchor="middle" fill="#111" stroke="#111" stroke-width="0.2">Enzalutamide</text>
<text x="173.70" y="312.50" font-size="4.75" font-weight="700" text-anchor="middle" fill="#111" transform="rotate(-90 173.70 312.50)" stroke="#111" stroke-width="0.2">x-fold of 1 nM R1881</text>
<text x="178.60" y="311.70" font-size="4.45" text-anchor="middle" fill="#222" transform="rotate(-90 178.60 311.70)" stroke="#222" stroke-width="0.18">(nuclear AR relative to Lamin A/C)</text>
<text x="243.80" y="327.71" font-size="4.5" text-anchor="start" fill="#111" stroke="#222" stroke-width="0.18">1 nM R1881</text>
<text x="243.80" y="337.29" font-size="4.5" text-anchor="start" fill="#111" stroke="#222" stroke-width="0.18">5% FCSdcc</text>
<path d="M192.70 304.40V298.50Q192.70 297.60 193.60 297.60H234.54Q235.44 297.60 235.44 298.50V331.00" fill="none" stroke="#222" stroke-width="0.65"/>
<text x="214.07" y="298.10" font-size="7.6" font-weight="700" text-anchor="middle" fill="#000" letter-spacing="-0.3" stroke="#000" stroke-width="0.3">***</text>
<path d="M192.70 321.00V309.20Q192.70 308.30 193.60 308.30H224.10Q225.00 308.30 225.00 309.20V328.70" fill="none" stroke="#222" stroke-width="0.65"/>
<text x="208.85" y="308.80" font-size="7.6" font-weight="700" text-anchor="middle" fill="#000" letter-spacing="-0.3" stroke="#000" stroke-width="0.3">**</text>
<line x1="326.50" y1="326.16" x2="381.50" y2="326.16" stroke="#6a6a6a" stroke-width="0.5" stroke-dasharray="0.9 0.6"/>
<line x1="326.50" y1="335.74" x2="381.50" y2="335.74" stroke="#6a6a6a" stroke-width="0.5" stroke-dasharray="0.9 0.6"/>
<rect x="330.14" y="326.16" width="6.30" height="13.89" fill="#5b504c" stroke="#3f3633" stroke-width="0.5"/>
<line x1="343.70" y1="326.16" x2="343.70" y2="323.38" stroke="#6a605c" stroke-width="0.55"/>
<line x1="341.70" y1="323.38" x2="345.70" y2="323.38" stroke="#6a605c" stroke-width="0.55"/>
<rect x="340.50" y="326.16" width="6.30" height="13.89" fill="#5b504c" stroke="#3f3633" stroke-width="0.5"/>
<line x1="354.06" y1="323.80" x2="354.06" y2="321.72" stroke="#6a605c" stroke-width="0.55"/>
<line x1="352.06" y1="321.72" x2="356.06" y2="321.72" stroke="#6a605c" stroke-width="0.55"/>
<rect x="350.86" y="323.80" width="6.30" height="16.25" fill="#5b504c" stroke="#3f3633" stroke-width="0.5"/>
<line x1="364.43" y1="326.58" x2="364.43" y2="321.30" stroke="#6a605c" stroke-width="0.55"/>
<line x1="362.43" y1="321.30" x2="366.43" y2="321.30" stroke="#6a605c" stroke-width="0.55"/>
<rect x="361.23" y="326.58" width="6.30" height="13.47" fill="#5b504c" stroke="#3f3633" stroke-width="0.5"/>
<line x1="374.79" y1="335.19" x2="374.79" y2="333.11" stroke="#6a605c" stroke-width="0.55"/>
<line x1="372.79" y1="333.11" x2="376.79" y2="333.11" stroke="#6a605c" stroke-width="0.55"/>
<rect x="371.59" y="335.19" width="6.30" height="4.86" fill="#5b504c" stroke="#3f3633" stroke-width="0.5"/>
<line x1="326.50" y1="284.19" x2="326.50" y2="340.40" stroke="#222" stroke-width="0.75"/>
<line x1="326.15" y1="340.05" x2="380.08" y2="340.05" stroke="#222" stroke-width="0.75"/>
<line x1="324.60" y1="340.05" x2="326.50" y2="340.05" stroke="#222" stroke-width="0.65"/>
<text x="323.80" y="341.50" font-size="4.1" font-weight="700" text-anchor="end" fill="#111" stroke="#111" stroke-width="0.2">0</text>
<line x1="324.60" y1="326.16" x2="326.50" y2="326.16" stroke="#222" stroke-width="0.65"/>
<text x="323.80" y="327.61" font-size="4.1" font-weight="700" text-anchor="end" fill="#111" stroke="#111" stroke-width="0.2">1</text>
<line x1="324.60" y1="312.27" x2="326.50" y2="312.27" stroke="#222" stroke-width="0.65"/>
<text x="323.80" y="313.72" font-size="4.1" font-weight="700" text-anchor="end" fill="#111" stroke="#111" stroke-width="0.2">2</text>
<line x1="324.60" y1="298.38" x2="326.50" y2="298.38" stroke="#222" stroke-width="0.65"/>
<text x="323.80" y="299.83" font-size="4.1" font-weight="700" text-anchor="end" fill="#111" stroke="#111" stroke-width="0.2">3</text>
<line x1="324.60" y1="284.49" x2="326.50" y2="284.49" stroke="#222" stroke-width="0.65"/>
<text x="323.80" y="285.94" font-size="4.1" font-weight="700" text-anchor="end" fill="#111" stroke="#111" stroke-width="0.2">4</text>
<line x1="333.34" y1="340.05" x2="333.34" y2="341.55" stroke="#222" stroke-width="0.65"/>
<text x="333.34" y="346.55" font-size="3.6" font-weight="700" text-anchor="middle" fill="#111" stroke="#111" stroke-width="0.2">0</text>
<line x1="343.70" y1="340.05" x2="343.70" y2="341.55" stroke="#222" stroke-width="0.65"/>
<text x="343.70" y="346.55" font-size="3.6" font-weight="700" text-anchor="middle" fill="#111" stroke="#111" stroke-width="0.2">0.01</text>
<line x1="354.06" y1="340.05" x2="354.06" y2="341.55" stroke="#222" stroke-width="0.65"/>
<text x="354.06" y="346.55" font-size="3.6" font-weight="700" text-anchor="middle" fill="#111" stroke="#111" stroke-width="0.2">0.1</text>
<line x1="364.43" y1="340.05" x2="364.43" y2="341.55" stroke="#222" stroke-width="0.65"/>
<text x="364.43" y="346.55" font-size="3.6" font-weight="700" text-anchor="middle" fill="#111" stroke="#111" stroke-width="0.2">1</text>
<line x1="374.79" y1="340.05" x2="374.79" y2="341.55" stroke="#222" stroke-width="0.65"/>
<text x="374.79" y="346.55" font-size="3.6" font-weight="700" text-anchor="middle" fill="#111" stroke="#111" stroke-width="0.2">10</text>
<text x="354.00" y="354.05" font-size="4.4" font-weight="700" text-anchor="middle" fill="#111" stroke="#111" stroke-width="0.2">Apalutamide [µM]</text>
<text x="353.90" y="276.90" font-size="5.35" font-weight="700" text-anchor="middle" fill="#111" stroke="#111" stroke-width="0.2">Apalutamide</text>
<text x="313.80" y="312.50" font-size="4.75" font-weight="700" text-anchor="middle" fill="#111" transform="rotate(-90 313.80 312.50)" stroke="#111" stroke-width="0.2">x-fold of 1 nM R1881</text>
<text x="318.70" y="311.70" font-size="4.45" text-anchor="middle" fill="#222" transform="rotate(-90 318.70 311.70)" stroke="#222" stroke-width="0.18">(nuclear AR relative to Lamin A/C)</text>
<text x="383.90" y="327.71" font-size="4.5" text-anchor="start" fill="#111" stroke="#222" stroke-width="0.18">1 nM R1881</text>
<text x="383.90" y="337.29" font-size="4.5" text-anchor="start" fill="#111" stroke="#222" stroke-width="0.18">5% FCSdcc</text>
<path d="M332.80 322.30V315.40Q332.80 314.50 333.70 314.50H374.35Q375.25 314.50 375.25 315.40V329.80" fill="none" stroke="#222" stroke-width="0.65"/>
<text x="354.03" y="315.00" font-size="7.6" font-weight="700" text-anchor="middle" fill="#000" letter-spacing="-0.3" stroke="#000" stroke-width="0.3">**</text>
<line x1="465.80" y1="326.16" x2="521.18" y2="326.16" stroke="#6a6a6a" stroke-width="0.5" stroke-dasharray="0.9 0.6"/>
<line x1="465.80" y1="335.74" x2="521.18" y2="335.74" stroke="#6a6a6a" stroke-width="0.5" stroke-dasharray="0.9 0.6"/>
<rect x="469.46" y="326.16" width="6.30" height="13.89" fill="#5b504c" stroke="#3f3633" stroke-width="0.5"/>
<line x1="483.10" y1="324.77" x2="483.10" y2="322.27" stroke="#6a605c" stroke-width="0.55"/>
<line x1="481.10" y1="322.27" x2="485.10" y2="322.27" stroke="#6a605c" stroke-width="0.55"/>
<rect x="479.90" y="324.77" width="6.30" height="15.28" fill="#5b504c" stroke="#3f3633" stroke-width="0.5"/>
<line x1="493.53" y1="325.19" x2="493.53" y2="320.33" stroke="#6a605c" stroke-width="0.55"/>
<line x1="491.53" y1="320.33" x2="495.53" y2="320.33" stroke="#6a605c" stroke-width="0.55"/>
<rect x="490.33" y="325.19" width="6.30" height="14.86" fill="#5b504c" stroke="#3f3633" stroke-width="0.5"/>
<line x1="503.97" y1="327.83" x2="503.97" y2="323.38" stroke="#6a605c" stroke-width="0.55"/>
<line x1="501.97" y1="323.38" x2="505.97" y2="323.38" stroke="#6a605c" stroke-width="0.55"/>
<rect x="500.77" y="327.83" width="6.30" height="12.22" fill="#5b504c" stroke="#3f3633" stroke-width="0.5"/>
<line x1="514.40" y1="332.83" x2="514.40" y2="331.44" stroke="#6a605c" stroke-width="0.55"/>
<line x1="512.40" y1="331.44" x2="516.40" y2="331.44" stroke="#6a605c" stroke-width="0.55"/>
<rect x="511.20" y="332.83" width="6.30" height="7.22" fill="#5b504c" stroke="#3f3633" stroke-width="0.5"/>
<line x1="465.80" y1="284.19" x2="465.80" y2="340.40" stroke="#222" stroke-width="0.75"/>
<line x1="465.45" y1="340.05" x2="519.75" y2="340.05" stroke="#222" stroke-width="0.75"/>
<line x1="463.90" y1="340.05" x2="465.80" y2="340.05" stroke="#222" stroke-width="0.65"/>
<text x="463.10" y="341.50" font-size="4.1" font-weight="700" text-anchor="end" fill="#111" stroke="#111" stroke-width="0.2">0</text>
<line x1="463.90" y1="326.16" x2="465.80" y2="326.16" stroke="#222" stroke-width="0.65"/>
<text x="463.10" y="327.61" font-size="4.1" font-weight="700" text-anchor="end" fill="#111" stroke="#111" stroke-width="0.2">1</text>
<line x1="463.90" y1="312.27" x2="465.80" y2="312.27" stroke="#222" stroke-width="0.65"/>
<text x="463.10" y="313.72" font-size="4.1" font-weight="700" text-anchor="end" fill="#111" stroke="#111" stroke-width="0.2">2</text>
<line x1="463.90" y1="298.38" x2="465.80" y2="298.38" stroke="#222" stroke-width="0.65"/>
<text x="463.10" y="299.83" font-size="4.1" font-weight="700" text-anchor="end" fill="#111" stroke="#111" stroke-width="0.2">3</text>
<line x1="463.90" y1="284.49" x2="465.80" y2="284.49" stroke="#222" stroke-width="0.65"/>
<text x="463.10" y="285.94" font-size="4.1" font-weight="700" text-anchor="end" fill="#111" stroke="#111" stroke-width="0.2">4</text>
<line x1="472.66" y1="340.05" x2="472.66" y2="341.55" stroke="#222" stroke-width="0.65"/>
<text x="472.66" y="346.55" font-size="3.6" font-weight="700" text-anchor="middle" fill="#111" stroke="#111" stroke-width="0.2">0</text>
<line x1="483.10" y1="340.05" x2="483.10" y2="341.55" stroke="#222" stroke-width="0.65"/>
<text x="483.10" y="346.55" font-size="3.6" font-weight="700" text-anchor="middle" fill="#111" stroke="#111" stroke-width="0.2">0.01</text>
<line x1="493.53" y1="340.05" x2="493.53" y2="341.55" stroke="#222" stroke-width="0.65"/>
<text x="493.53" y="346.55" font-size="3.6" font-weight="700" text-anchor="middle" fill="#111" stroke="#111" stroke-width="0.2">0.1</text>
<line x1="503.97" y1="340.05" x2="503.97" y2="341.55" stroke="#222" stroke-width="0.65"/>
<text x="503.97" y="346.55" font-size="3.6" font-weight="700" text-anchor="middle" fill="#111" stroke="#111" stroke-width="0.2">1</text>
<line x1="514.40" y1="340.05" x2="514.40" y2="341.55" stroke="#222" stroke-width="0.65"/>
<text x="514.40" y="346.55" font-size="3.6" font-weight="700" text-anchor="middle" fill="#111" stroke="#111" stroke-width="0.2">10</text>
<text x="493.30" y="354.05" font-size="4.4" font-weight="700" text-anchor="middle" fill="#111" stroke="#111" stroke-width="0.2">Darolutamide [µM]</text>
<text x="493.20" y="276.90" font-size="5.35" font-weight="700" text-anchor="middle" fill="#111" stroke="#111" stroke-width="0.2">Darolutamide</text>
<text x="453.10" y="312.50" font-size="4.75" font-weight="700" text-anchor="middle" fill="#111" transform="rotate(-90 453.10 312.50)" stroke="#111" stroke-width="0.2">x-fold of 1 nM R1881</text>
<text x="458.00" y="311.70" font-size="4.45" text-anchor="middle" fill="#222" transform="rotate(-90 458.00 311.70)" stroke="#222" stroke-width="0.18">(nuclear AR relative to Lamin A/C)</text>
<text x="523.20" y="327.71" font-size="4.5" text-anchor="start" fill="#111" stroke="#222" stroke-width="0.18">1 nM R1881</text>
<text x="523.20" y="337.29" font-size="4.5" text-anchor="start" fill="#111" stroke="#222" stroke-width="0.18">5% FCSdcc</text>
<path d="M472.10 322.50V315.00Q472.10 314.10 473.00 314.10H513.94Q514.84 314.10 514.84 315.00V330.00" fill="none" stroke="#222" stroke-width="0.65"/>
<text x="493.47" y="314.60" font-size="7.6" font-weight="700" text-anchor="middle" fill="#000" letter-spacing="-0.3" stroke="#000" stroke-width="0.3">*</text>
<line x1="47.30" y1="420.50" x2="524.20" y2="419.50" stroke="#111" stroke-width="1.15"/>
<text x="285.20" y="417.30" font-size="10.1" text-anchor="middle" fill="#111">LAPC4</text>
<line x1="46.20" y1="470.80" x2="101.60" y2="470.80" stroke="#6a6a6a" stroke-width="0.5" stroke-dasharray="0.9 0.6"/>
<line x1="46.20" y1="480.77" x2="101.60" y2="480.77" stroke="#6a6a6a" stroke-width="0.5" stroke-dasharray="0.9 0.6"/>
<rect x="50.65" y="470.95" width="6.00" height="18.15" fill="#ffffff" stroke="#222" stroke-width="0.8"/>
<line x1="63.95" y1="474.46" x2="63.95" y2="468.42" stroke="#555" stroke-width="0.55"/>
<line x1="61.95" y1="468.42" x2="65.95" y2="468.42" stroke="#555" stroke-width="0.55"/>
<rect x="60.90" y="474.61" width="6.00" height="14.49" fill="#ffffff" stroke="#222" stroke-width="0.8"/>
<line x1="74.20" y1="473.91" x2="74.20" y2="470.80" stroke="#555" stroke-width="0.55"/>
<line x1="72.20" y1="470.80" x2="76.20" y2="470.80" stroke="#555" stroke-width="0.55"/>
<rect x="71.15" y="474.06" width="6.00" height="15.04" fill="#ffffff" stroke="#222" stroke-width="0.8"/>
<line x1="84.45" y1="481.23" x2="84.45" y2="479.22" stroke="#555" stroke-width="0.55"/>
<line x1="82.45" y1="479.22" x2="86.45" y2="479.22" stroke="#555" stroke-width="0.55"/>
<rect x="81.40" y="481.38" width="6.00" height="7.72" fill="#ffffff" stroke="#222" stroke-width="0.8"/>
<line x1="94.70" y1="482.51" x2="94.70" y2="480.50" stroke="#555" stroke-width="0.55"/>
<line x1="92.70" y1="480.50" x2="96.70" y2="480.50" stroke="#555" stroke-width="0.55"/>
<rect x="91.65" y="482.66" width="6.00" height="6.44" fill="#ffffff" stroke="#222" stroke-width="0.8"/>
<line x1="46.20" y1="433.90" x2="46.20" y2="489.45" stroke="#222" stroke-width="0.75"/>
<line x1="45.85" y1="489.10" x2="100.20" y2="489.10" stroke="#222" stroke-width="0.75"/>
<line x1="44.30" y1="489.10" x2="46.20" y2="489.10" stroke="#222" stroke-width="0.65"/>
<text x="43.50" y="490.55" font-size="4.1" font-weight="700" text-anchor="end" fill="#111" stroke="#111" stroke-width="0.2">0</text>
<line x1="44.30" y1="470.80" x2="46.20" y2="470.80" stroke="#222" stroke-width="0.65"/>
<text x="43.50" y="472.25" font-size="4.1" font-weight="700" text-anchor="end" fill="#111" stroke="#111" stroke-width="0.2">1</text>
<line x1="44.30" y1="452.50" x2="46.20" y2="452.50" stroke="#222" stroke-width="0.65"/>
<text x="43.50" y="453.95" font-size="4.1" font-weight="700" text-anchor="end" fill="#111" stroke="#111" stroke-width="0.2">2</text>
<line x1="44.30" y1="434.20" x2="46.20" y2="434.20" stroke="#222" stroke-width="0.65"/>
<text x="43.50" y="435.65" font-size="4.1" font-weight="700" text-anchor="end" fill="#111" stroke="#111" stroke-width="0.2">3</text>
<line x1="53.70" y1="489.10" x2="53.70" y2="490.60" stroke="#222" stroke-width="0.65"/>
<text x="53.70" y="495.60" font-size="3.6" font-weight="700" text-anchor="middle" fill="#111" stroke="#111" stroke-width="0.2">0</text>
<line x1="63.95" y1="489.10" x2="63.95" y2="490.60" stroke="#222" stroke-width="0.65"/>
<text x="63.95" y="495.60" font-size="3.6" font-weight="700" text-anchor="middle" fill="#111" stroke="#111" stroke-width="0.2">0.01</text>
<line x1="74.20" y1="489.10" x2="74.20" y2="490.60" stroke="#222" stroke-width="0.65"/>
<text x="74.20" y="495.60" font-size="3.6" font-weight="700" text-anchor="middle" fill="#111" stroke="#111" stroke-width="0.2">0.1</text>
<line x1="84.45" y1="489.10" x2="84.45" y2="490.60" stroke="#222" stroke-width="0.65"/>
<text x="84.45" y="495.60" font-size="3.6" font-weight="700" text-anchor="middle" fill="#111" stroke="#111" stroke-width="0.2">1</text>
<line x1="94.70" y1="489.10" x2="94.70" y2="490.60" stroke="#222" stroke-width="0.65"/>
<text x="94.70" y="495.60" font-size="3.6" font-weight="700" text-anchor="middle" fill="#111" stroke="#111" stroke-width="0.2">10</text>
<text x="74.70" y="503.10" font-size="4.4" font-weight="700" text-anchor="middle" fill="#111" stroke="#111" stroke-width="0.2">Bicalutamide [µM]</text>
<text x="74.60" y="426.90" font-size="5.35" font-weight="700" text-anchor="middle" fill="#111" stroke="#111" stroke-width="0.2">Bicalutamide</text>
<text x="33.70" y="462.50" font-size="4.75" font-weight="700" text-anchor="middle" fill="#111" transform="rotate(-90 33.70 462.50)" stroke="#111" stroke-width="0.2">x-fold of 1 nM R1881</text>
<text x="39.10" y="460.80" font-size="4.45" text-anchor="middle" fill="#222" transform="rotate(-90 39.10 460.80)" stroke="#222" stroke-width="0.18">(nuclear AR relative to Lamin A/C)</text>
<text x="104.60" y="472.35" font-size="4.5" text-anchor="start" fill="#111" stroke="#222" stroke-width="0.18">1 nM R1881</text>
<text x="104.60" y="482.32" font-size="4.5" text-anchor="start" fill="#111" stroke="#222" stroke-width="0.18">5% FCSdcc</text>
<path d="M53.20 458.20V452.10Q53.20 451.20 54.10 451.20H94.30Q95.20 451.20 95.20 452.10V476.80" fill="none" stroke="#222" stroke-width="0.65"/>
<text x="74.20" y="451.70" font-size="7.6" font-weight="700" text-anchor="middle" fill="#000" letter-spacing="-0.3" stroke="#000" stroke-width="0.3">**</text>
<path d="M53.20 466.60V462.80Q53.20 461.90 54.10 461.90H84.05Q84.95 461.90 84.95 462.80V476.30" fill="none" stroke="#222" stroke-width="0.65"/>
<text x="69.08" y="462.40" font-size="7.6" font-weight="700" text-anchor="middle" fill="#000" letter-spacing="-0.3" stroke="#000" stroke-width="0.3">***</text>
<line x1="186.20" y1="470.80" x2="241.60" y2="470.80" stroke="#6a6a6a" stroke-width="0.5" stroke-dasharray="0.9 0.6"/>
<line x1="186.20" y1="480.77" x2="241.60" y2="480.77" stroke="#6a6a6a" stroke-width="0.5" stroke-dasharray="0.9 0.6"/>
<rect x="190.65" y="470.95" width="6.00" height="18.15" fill="#ffffff" stroke="#222" stroke-width="0.8"/>
<line x1="203.95" y1="469.34" x2="203.95" y2="465.86" stroke="#555" stroke-width="0.55"/>
<line x1="201.95" y1="465.86" x2="205.95" y2="465.86" stroke="#555" stroke-width="0.55"/>
<rect x="200.90" y="469.49" width="6.00" height="19.61" fill="#ffffff" stroke="#222" stroke-width="0.8"/>
<line x1="214.20" y1="470.25" x2="214.20" y2="464.94" stroke="#555" stroke-width="0.55"/>
<line x1="212.20" y1="464.94" x2="216.20" y2="464.94" stroke="#555" stroke-width="0.55"/>
<rect x="211.15" y="470.40" width="6.00" height="18.70" fill="#ffffff" stroke="#222" stroke-width="0.8"/>
<line x1="224.45" y1="473.91" x2="224.45" y2="460.74" stroke="#555" stroke-width="0.55"/>
<line x1="222.45" y1="460.74" x2="226.45" y2="460.74" stroke="#555" stroke-width="0.55"/>
<rect x="221.40" y="474.06" width="6.00" height="15.04" fill="#ffffff" stroke="#222" stroke-width="0.8"/>
<line x1="234.70" y1="484.53" x2="234.70" y2="482.70" stroke="#555" stroke-width="0.55"/>
<line x1="232.70" y1="482.70" x2="236.70" y2="482.70" stroke="#555" stroke-width="0.55"/>
<rect x="231.65" y="484.68" width="6.00" height="4.42" fill="#ffffff" stroke="#222" stroke-width="0.8"/>
<line x1="186.20" y1="433.90" x2="186.20" y2="489.45" stroke="#222" stroke-width="0.75"/>
<line x1="185.85" y1="489.10" x2="240.20" y2="489.10" stroke="#222" stroke-width="0.75"/>
<line x1="184.30" y1="489.10" x2="186.20" y2="489.10" stroke="#222" stroke-width="0.65"/>
<text x="183.50" y="490.55" font-size="4.1" font-weight="700" text-anchor="end" fill="#111" stroke="#111" stroke-width="0.2">0</text>
<line x1="184.30" y1="470.80" x2="186.20" y2="470.80" stroke="#222" stroke-width="0.65"/>
<text x="183.50" y="472.25" font-size="4.1" font-weight="700" text-anchor="end" fill="#111" stroke="#111" stroke-width="0.2">1</text>
<line x1="184.30" y1="452.50" x2="186.20" y2="452.50" stroke="#222" stroke-width="0.65"/>
<text x="183.50" y="453.95" font-size="4.1" font-weight="700" text-anchor="end" fill="#111" stroke="#111" stroke-width="0.2">2</text>
<line x1="184.30" y1="434.20" x2="186.20" y2="434.20" stroke="#222" stroke-width="0.65"/>
<text x="183.50" y="435.65" font-size="4.1" font-weight="700" text-anchor="end" fill="#111" stroke="#111" stroke-width="0.2">3</text>
<line x1="193.70" y1="489.10" x2="193.70" y2="490.60" stroke="#222" stroke-width="0.65"/>
<text x="193.70" y="495.60" font-size="3.6" font-weight="700" text-anchor="middle" fill="#111" stroke="#111" stroke-width="0.2">0</text>
<line x1="203.95" y1="489.10" x2="203.95" y2="490.60" stroke="#222" stroke-width="0.65"/>
<text x="203.95" y="495.60" font-size="3.6" font-weight="700" text-anchor="middle" fill="#111" stroke="#111" stroke-width="0.2">0.01</text>
<line x1="214.20" y1="489.10" x2="214.20" y2="490.60" stroke="#222" stroke-width="0.65"/>
<text x="214.20" y="495.60" font-size="3.6" font-weight="700" text-anchor="middle" fill="#111" stroke="#111" stroke-width="0.2">0.1</text>
<line x1="224.45" y1="489.10" x2="224.45" y2="490.60" stroke="#222" stroke-width="0.65"/>
<text x="224.45" y="495.60" font-size="3.6" font-weight="700" text-anchor="middle" fill="#111" stroke="#111" stroke-width="0.2">1</text>
<line x1="234.70" y1="489.10" x2="234.70" y2="490.60" stroke="#222" stroke-width="0.65"/>
<text x="234.70" y="495.60" font-size="3.6" font-weight="700" text-anchor="middle" fill="#111" stroke="#111" stroke-width="0.2">10</text>
<text x="214.70" y="503.10" font-size="4.4" font-weight="700" text-anchor="middle" fill="#111" stroke="#111" stroke-width="0.2">Enzalutamide [µM]</text>
<text x="214.60" y="426.90" font-size="5.35" font-weight="700" text-anchor="middle" fill="#111" stroke="#111" stroke-width="0.2">Enzalutamide</text>
<text x="173.70" y="462.50" font-size="4.75" font-weight="700" text-anchor="middle" fill="#111" transform="rotate(-90 173.70 462.50)" stroke="#111" stroke-width="0.2">x-fold of 1 nM R1881</text>
<text x="179.10" y="460.80" font-size="4.45" text-anchor="middle" fill="#222" transform="rotate(-90 179.10 460.80)" stroke="#222" stroke-width="0.18">(nuclear AR relative to Lamin A/C)</text>
<text x="244.60" y="472.35" font-size="4.5" text-anchor="start" fill="#111" stroke="#222" stroke-width="0.18">1 nM R1881</text>
<text x="244.60" y="482.32" font-size="4.5" text-anchor="start" fill="#111" stroke="#222" stroke-width="0.18">5% FCSdcc</text>
<path d="M193.20 467.00V455.30Q193.20 454.40 194.10 454.40H234.30Q235.20 454.40 235.20 455.30V478.70" fill="none" stroke="#222" stroke-width="0.65"/>
<text x="214.20" y="454.90" font-size="7.6" font-weight="700" text-anchor="middle" fill="#000" letter-spacing="-0.3" stroke="#000" stroke-width="0.3">**</text>
<line x1="326.20" y1="470.80" x2="381.60" y2="470.80" stroke="#6a6a6a" stroke-width="0.5" stroke-dasharray="0.9 0.6"/>
<line x1="326.20" y1="480.77" x2="381.60" y2="480.77" stroke="#6a6a6a" stroke-width="0.5" stroke-dasharray="0.9 0.6"/>
<rect x="330.65" y="470.95" width="6.00" height="18.15" fill="#ffffff" stroke="#222" stroke-width="0.8"/>
<line x1="343.95" y1="477.02" x2="343.95" y2="471.35" stroke="#555" stroke-width="0.55"/>
<line x1="341.95" y1="471.35" x2="345.95" y2="471.35" stroke="#555" stroke-width="0.55"/>
<rect x="340.90" y="477.17" width="6.00" height="11.93" fill="#ffffff" stroke="#222" stroke-width="0.8"/>
<line x1="354.20" y1="471.35" x2="354.20" y2="462.93" stroke="#555" stroke-width="0.55"/>
<line x1="352.20" y1="462.93" x2="356.20" y2="462.93" stroke="#555" stroke-width="0.55"/>
<rect x="351.15" y="471.50" width="6.00" height="17.60" fill="#ffffff" stroke="#222" stroke-width="0.8"/>
<line x1="364.45" y1="480.87" x2="364.45" y2="477.21" stroke="#555" stroke-width="0.55"/>
<line x1="362.45" y1="477.21" x2="366.45" y2="477.21" stroke="#555" stroke-width="0.55"/>
<rect x="361.40" y="481.01" width="6.00" height="8.09" fill="#ffffff" stroke="#222" stroke-width="0.8"/>
<line x1="374.70" y1="483.98" x2="374.70" y2="481.41" stroke="#555" stroke-width="0.55"/>
<line x1="372.70" y1="481.41" x2="376.70" y2="481.41" stroke="#555" stroke-width="0.55"/>
<rect x="371.65" y="484.13" width="6.00" height="4.97" fill="#ffffff" stroke="#222" stroke-width="0.8"/>
<line x1="326.20" y1="433.90" x2="326.20" y2="489.45" stroke="#222" stroke-width="0.75"/>
<line x1="325.85" y1="489.10" x2="380.20" y2="489.10" stroke="#222" stroke-width="0.75"/>
<line x1="324.30" y1="489.10" x2="326.20" y2="489.10" stroke="#222" stroke-width="0.65"/>
<text x="323.50" y="490.55" font-size="4.1" font-weight="700" text-anchor="end" fill="#111" stroke="#111" stroke-width="0.2">0</text>
<line x1="324.30" y1="470.80" x2="326.20" y2="470.80" stroke="#222" stroke-width="0.65"/>
<text x="323.50" y="472.25" font-size="4.1" font-weight="700" text-anchor="end" fill="#111" stroke="#111" stroke-width="0.2">1</text>
<line x1="324.30" y1="452.50" x2="326.20" y2="452.50" stroke="#222" stroke-width="0.65"/>
<text x="323.50" y="453.95" font-size="4.1" font-weight="700" text-anchor="end" fill="#111" stroke="#111" stroke-width="0.2">2</text>
<line x1="324.30" y1="434.20" x2="326.20" y2="434.20" stroke="#222" stroke-width="0.65"/>
<text x="323.50" y="435.65" font-size="4.1" font-weight="700" text-anchor="end" fill="#111" stroke="#111" stroke-width="0.2">3</text>
<line x1="333.70" y1="489.10" x2="333.70" y2="490.60" stroke="#222" stroke-width="0.65"/>
<text x="333.70" y="495.60" font-size="3.6" font-weight="700" text-anchor="middle" fill="#111" stroke="#111" stroke-width="0.2">0</text>
<line x1="343.95" y1="489.10" x2="343.95" y2="490.60" stroke="#222" stroke-width="0.65"/>
<text x="343.95" y="495.60" font-size="3.6" font-weight="700" text-anchor="middle" fill="#111" stroke="#111" stroke-width="0.2">0.01</text>
<line x1="354.20" y1="489.10" x2="354.20" y2="490.60" stroke="#222" stroke-width="0.65"/>
<text x="354.20" y="495.60" font-size="3.6" font-weight="700" text-anchor="middle" fill="#111" stroke="#111" stroke-width="0.2">0.1</text>
<line x1="364.45" y1="489.10" x2="364.45" y2="490.60" stroke="#222" stroke-width="0.65"/>
<text x="364.45" y="495.60" font-size="3.6" font-weight="700" text-anchor="middle" fill="#111" stroke="#111" stroke-width="0.2">1</text>
<line x1="374.70" y1="489.10" x2="374.70" y2="490.60" stroke="#222" stroke-width="0.65"/>
<text x="374.70" y="495.60" font-size="3.6" font-weight="700" text-anchor="middle" fill="#111" stroke="#111" stroke-width="0.2">10</text>
<text x="354.70" y="503.10" font-size="4.4" font-weight="700" text-anchor="middle" fill="#111" stroke="#111" stroke-width="0.2">Apalutamide [µM]</text>
<text x="354.60" y="426.90" font-size="5.35" font-weight="700" text-anchor="middle" fill="#111" stroke="#111" stroke-width="0.2">Apalutamide</text>
<text x="313.70" y="462.50" font-size="4.75" font-weight="700" text-anchor="middle" fill="#111" transform="rotate(-90 313.70 462.50)" stroke="#111" stroke-width="0.2">x-fold of 1 nM R1881</text>
<text x="319.10" y="460.80" font-size="4.45" text-anchor="middle" fill="#222" transform="rotate(-90 319.10 460.80)" stroke="#222" stroke-width="0.18">(nuclear AR relative to Lamin A/C)</text>
<text x="384.60" y="472.35" font-size="4.5" text-anchor="start" fill="#111" stroke="#222" stroke-width="0.18">1 nM R1881</text>
<text x="384.60" y="482.32" font-size="4.5" text-anchor="start" fill="#111" stroke="#222" stroke-width="0.18">5% FCSdcc</text>
<path d="M333.20 452.60V446.60Q333.20 445.70 334.10 445.70H374.30Q375.20 445.70 375.20 446.60V479.00" fill="none" stroke="#222" stroke-width="0.65"/>
<text x="354.20" y="446.20" font-size="7.6" font-weight="700" text-anchor="middle" fill="#000" letter-spacing="-0.3" stroke="#000" stroke-width="0.3">**</text>
<path d="M333.20 466.60V457.90Q333.20 457.00 334.10 457.00H364.05Q364.95 457.00 364.95 457.90V475.00" fill="none" stroke="#222" stroke-width="0.65"/>
<text x="349.07" y="457.50" font-size="7.6" font-weight="700" text-anchor="middle" fill="#000" letter-spacing="-0.3" stroke="#000" stroke-width="0.3">*</text>
<line x1="466.70" y1="470.80" x2="521.10" y2="470.80" stroke="#6a6a6a" stroke-width="0.5" stroke-dasharray="0.9 0.6"/>
<line x1="466.70" y1="480.77" x2="521.10" y2="480.77" stroke="#6a6a6a" stroke-width="0.5" stroke-dasharray="0.9 0.6"/>
<rect x="470.45" y="470.95" width="6.00" height="18.15" fill="#ffffff" stroke="#222" stroke-width="0.8"/>
<line x1="483.75" y1="470.80" x2="483.75" y2="466.77" stroke="#555" stroke-width="0.55"/>
<line x1="481.75" y1="466.77" x2="485.75" y2="466.77" stroke="#555" stroke-width="0.55"/>
<rect x="480.70" y="470.95" width="6.00" height="18.15" fill="#ffffff" stroke="#222" stroke-width="0.8"/>
<line x1="494.00" y1="468.97" x2="494.00" y2="466.77" stroke="#555" stroke-width="0.55"/>
<line x1="492.00" y1="466.77" x2="496.00" y2="466.77" stroke="#555" stroke-width="0.55"/>
<rect x="490.95" y="469.12" width="6.00" height="19.98" fill="#ffffff" stroke="#222" stroke-width="0.8"/>
<line x1="504.25" y1="477.75" x2="504.25" y2="473.55" stroke="#555" stroke-width="0.55"/>
<line x1="502.25" y1="473.55" x2="506.25" y2="473.55" stroke="#555" stroke-width="0.55"/>
<rect x="501.20" y="477.90" width="6.00" height="11.20" fill="#ffffff" stroke="#222" stroke-width="0.8"/>
<line x1="514.50" y1="480.32" x2="514.50" y2="478.67" stroke="#555" stroke-width="0.55"/>
<line x1="512.50" y1="478.67" x2="516.50" y2="478.67" stroke="#555" stroke-width="0.55"/>
<rect x="511.45" y="480.47" width="6.00" height="8.63" fill="#ffffff" stroke="#222" stroke-width="0.8"/>
<line x1="466.70" y1="433.90" x2="466.70" y2="489.45" stroke="#222" stroke-width="0.75"/>
<line x1="466.35" y1="489.10" x2="519.70" y2="489.10" stroke="#222" stroke-width="0.75"/>
<line x1="464.80" y1="489.10" x2="466.70" y2="489.10" stroke="#222" stroke-width="0.65"/>
<text x="464.00" y="490.55" font-size="4.1" font-weight="700" text-anchor="end" fill="#111" stroke="#111" stroke-width="0.2">0</text>
<line x1="464.80" y1="470.80" x2="466.70" y2="470.80" stroke="#222" stroke-width="0.65"/>
<text x="464.00" y="472.25" font-size="4.1" font-weight="700" text-anchor="end" fill="#111" stroke="#111" stroke-width="0.2">1</text>
<line x1="464.80" y1="452.50" x2="466.70" y2="452.50" stroke="#222" stroke-width="0.65"/>
<text x="464.00" y="453.95" font-size="4.1" font-weight="700" text-anchor="end" fill="#111" stroke="#111" stroke-width="0.2">2</text>
<line x1="464.80" y1="434.20" x2="466.70" y2="434.20" stroke="#222" stroke-width="0.65"/>
<text x="464.00" y="435.65" font-size="4.1" font-weight="700" text-anchor="end" fill="#111" stroke="#111" stroke-width="0.2">3</text>
<line x1="473.50" y1="489.10" x2="473.50" y2="490.60" stroke="#222" stroke-width="0.65"/>
<text x="473.50" y="495.60" font-size="3.6" font-weight="700" text-anchor="middle" fill="#111" stroke="#111" stroke-width="0.2">0</text>
<line x1="483.75" y1="489.10" x2="483.75" y2="490.60" stroke="#222" stroke-width="0.65"/>
<text x="483.75" y="495.60" font-size="3.6" font-weight="700" text-anchor="middle" fill="#111" stroke="#111" stroke-width="0.2">0.01</text>
<line x1="494.00" y1="489.10" x2="494.00" y2="490.60" stroke="#222" stroke-width="0.65"/>
<text x="494.00" y="495.60" font-size="3.6" font-weight="700" text-anchor="middle" fill="#111" stroke="#111" stroke-width="0.2">0.1</text>
<line x1="504.25" y1="489.10" x2="504.25" y2="490.60" stroke="#222" stroke-width="0.65"/>
<text x="504.25" y="495.60" font-size="3.6" font-weight="700" text-anchor="middle" fill="#111" stroke="#111" stroke-width="0.2">1</text>
<line x1="514.50" y1="489.10" x2="514.50" y2="490.60" stroke="#222" stroke-width="0.65"/>
<text x="514.50" y="495.60" font-size="3.6" font-weight="700" text-anchor="middle" fill="#111" stroke="#111" stroke-width="0.2">10</text>
<text x="494.20" y="503.10" font-size="4.4" font-weight="700" text-anchor="middle" fill="#111" stroke="#111" stroke-width="0.2">Darolutamide [µM]</text>
<text x="494.10" y="426.90" font-size="5.35" font-weight="700" text-anchor="middle" fill="#111" stroke="#111" stroke-width="0.2">Darolutamide</text>
<text x="453.20" y="462.50" font-size="4.75" font-weight="700" text-anchor="middle" fill="#111" transform="rotate(-90 453.20 462.50)" stroke="#111" stroke-width="0.2">x-fold of 1 nM R1881</text>
<text x="458.60" y="460.80" font-size="4.45" text-anchor="middle" fill="#222" transform="rotate(-90 458.60 460.80)" stroke="#222" stroke-width="0.18">(nuclear AR relative to Lamin A/C)</text>
<text x="524.10" y="472.35" font-size="4.5" text-anchor="start" fill="#111" stroke="#222" stroke-width="0.18">1 nM R1881</text>
<text x="524.10" y="482.32" font-size="4.5" text-anchor="start" fill="#111" stroke="#222" stroke-width="0.18">5% FCSdcc</text>
<path d="M473.00 467.00V460.80Q473.00 459.90 473.90 459.90H514.10Q515.00 459.90 515.00 460.80V475.80" fill="none" stroke="#222" stroke-width="0.65"/>
<text x="494.00" y="460.40" font-size="7.6" font-weight="700" text-anchor="middle" fill="#000" letter-spacing="-0.3" stroke="#000" stroke-width="0.3">*</text>
<text x="3.80" y="216.20" font-size="7.9" text-anchor="start" fill="#111" stroke="#111" stroke-width="0.15">AR</text>
<text x="3.80" y="235.40" font-size="7.9" text-anchor="start" fill="#111" stroke="#111" stroke-width="0.15">LAMIN A/C</text>
<rect x="45.10" y="206.80" width="58.50" height="14.10" fill="#e2e2e2"/>
<g filter="url(#b1)">
<rect x="47.80" y="214.40" width="8.60" height="2.60" fill="#050505" opacity="0.85"/>
<rect x="58.40" y="214.40" width="8.60" height="2.60" fill="#050505" opacity="0.90"/>
<rect x="69.30" y="214.40" width="8.60" height="2.60" fill="#050505" opacity="0.90"/>
<rect x="80.20" y="214.40" width="8.60" height="2.60" fill="#050505" opacity="0.85"/>
<rect x="91.10" y="214.40" width="8.60" height="2.60" fill="#050505" opacity="0.25"/>
</g>
<rect x="45.10" y="223.70" width="58.50" height="13.10" fill="#f1f1f1"/>
<g filter="url(#b1)">
<rect x="47.80" y="226.45" width="8.60" height="1.70" fill="#050505" opacity="0.50"/>
<rect x="58.40" y="226.45" width="8.60" height="1.70" fill="#050505" opacity="0.42"/>
<rect x="69.30" y="226.45" width="8.60" height="1.70" fill="#050505" opacity="0.35"/>
<rect x="80.20" y="226.45" width="8.60" height="1.70" fill="#050505" opacity="0.50"/>
<rect x="91.10" y="226.45" width="8.60" height="1.70" fill="#050505" opacity="0.38"/>
<rect x="46.90" y="233.60" width="10.40" height="1.80" fill="#050505" opacity="1.00"/>
<rect x="57.50" y="233.60" width="10.40" height="1.80" fill="#050505" opacity="1.00"/>
<rect x="68.40" y="233.60" width="10.40" height="1.80" fill="#050505" opacity="1.00"/>
<rect x="79.30" y="233.60" width="10.40" height="1.80" fill="#050505" opacity="1.00"/>
<rect x="90.20" y="233.60" width="10.40" height="1.80" fill="#050505" opacity="0.95"/>
</g>
<text x="145.60" y="216.90" font-size="7.9" text-anchor="start" fill="#111" stroke="#111" stroke-width="0.15">AR</text>
<text x="145.60" y="236.20" font-size="7.9" text-anchor="start" fill="#111" stroke="#111" stroke-width="0.15">LAMIN A/C</text>
<rect x="187.00" y="206.80" width="59.20" height="14.00" fill="#e5e5e5"/>
<g filter="url(#b1)">
<rect x="189.20" y="214.60" width="8.60" height="3.00" fill="#050505" opacity="0.62"/>
<rect x="199.60" y="214.60" width="8.60" height="3.00" fill="#050505" opacity="0.66"/>
<rect x="210.30" y="214.60" width="8.60" height="3.00" fill="#050505" opacity="0.72"/>
<rect x="222.20" y="214.60" width="8.60" height="3.00" fill="#050505" opacity="0.60"/>
<rect x="233.60" y="214.60" width="8.60" height="3.00" fill="#050505" opacity="0.30"/>
</g>
<rect x="187.00" y="223.10" width="59.20" height="13.70" fill="#f2f2f2"/>
<g filter="url(#b1)">
<rect x="189.20" y="226.45" width="8.60" height="1.70" fill="#050505" opacity="0.30"/>
<rect x="199.60" y="226.45" width="8.60" height="1.70" fill="#050505" opacity="0.35"/>
<rect x="210.30" y="226.45" width="8.60" height="1.70" fill="#050505" opacity="0.50"/>
<rect x="222.20" y="226.45" width="8.60" height="1.70" fill="#050505" opacity="0.45"/>
<rect x="233.60" y="226.45" width="8.60" height="1.70" fill="#050505" opacity="0.40"/>
<rect x="188.00" y="233.65" width="11.00" height="1.70" fill="#050505" opacity="0.95"/>
<rect x="198.40" y="233.65" width="11.00" height="1.70" fill="#050505" opacity="0.95"/>
<rect x="209.10" y="233.65" width="11.00" height="1.70" fill="#050505" opacity="1.00"/>
<rect x="221.00" y="233.65" width="11.00" height="1.70" fill="#050505" opacity="1.00"/>
<rect x="232.40" y="233.65" width="11.00" height="1.70" fill="#050505" opacity="0.95"/>
</g>
<text x="283.00" y="216.00" font-size="7.9" text-anchor="start" fill="#111" stroke="#111" stroke-width="0.15">AR</text>
<text x="283.00" y="234.20" font-size="7.9" text-anchor="start" fill="#111" stroke="#111" stroke-width="0.15">LAMIN A/C</text>
<rect x="324.40" y="206.80" width="59.10" height="13.70" fill="#e6e6e6"/>
<g filter="url(#b1)">
<rect x="327.00" y="213.30" width="9.00" height="2.40" fill="#050505" opacity="0.80"/>
<rect x="338.50" y="213.30" width="9.00" height="2.40" fill="#050505" opacity="0.74"/>
<rect x="349.90" y="213.00" width="9.00" height="2.40" fill="#050505" opacity="0.68"/>
<rect x="361.10" y="212.40" width="9.00" height="2.40" fill="#050505" opacity="0.50"/>
<rect x="372.00" y="212.00" width="9.00" height="2.40" fill="#050505" opacity="0.22"/>
</g>
<rect x="324.40" y="223.10" width="59.10" height="13.70" fill="#f2f2f2"/>
<g filter="url(#b1)">
<rect x="327.00" y="226.65" width="9.00" height="1.70" fill="#050505" opacity="0.28"/>
<rect x="338.50" y="226.65" width="9.00" height="1.70" fill="#050505" opacity="0.25"/>
<rect x="349.90" y="226.65" width="9.00" height="1.70" fill="#050505" opacity="0.25"/>
<rect x="361.10" y="226.65" width="9.00" height="1.70" fill="#050505" opacity="0.25"/>
<rect x="372.00" y="226.65" width="9.00" height="1.70" fill="#050505" opacity="0.22"/>
<rect x="327.00" y="233.95" width="9.00" height="1.70" fill="#050505" opacity="0.85"/>
<rect x="338.50" y="233.95" width="9.00" height="1.70" fill="#050505" opacity="0.80"/>
<rect x="349.90" y="233.95" width="9.00" height="1.70" fill="#050505" opacity="0.78"/>
<rect x="361.10" y="233.95" width="9.00" height="1.70" fill="#050505" opacity="0.85"/>
<rect x="372.00" y="233.95" width="9.00" height="1.70" fill="#050505" opacity="0.80"/>
</g>
<text x="422.00" y="217.40" font-size="7.9" text-anchor="start" fill="#111" stroke="#111" stroke-width="0.15">AR</text>
<text x="422.00" y="236.40" font-size="7.9" text-anchor="start" fill="#111" stroke="#111" stroke-width="0.15">LAMIN A/C</text>
<rect x="463.10" y="206.80" width="58.50" height="14.40" fill="#e4e4e4"/>
<g filter="url(#b1)">
<rect x="465.50" y="212.60" width="9.00" height="2.60" fill="#050505" opacity="1.00"/>
<rect x="476.50" y="212.60" width="9.00" height="2.60" fill="#050505" opacity="0.55"/>
<rect x="487.40" y="212.60" width="9.00" height="2.60" fill="#050505" opacity="0.82"/>
<rect x="498.50" y="212.60" width="9.00" height="2.60" fill="#050505" opacity="0.82"/>
<rect x="509.50" y="212.60" width="9.00" height="2.60" fill="#050505" opacity="0.20"/>
</g>
<rect x="463.10" y="223.70" width="58.50" height="13.60" fill="#f2f2f2"/>
<g filter="url(#b1)">
<rect x="465.50" y="226.65" width="9.00" height="1.70" fill="#050505" opacity="0.32"/>
<rect x="476.50" y="226.65" width="9.00" height="1.70" fill="#050505" opacity="0.20"/>
<rect x="487.40" y="226.65" width="9.00" height="1.70" fill="#050505" opacity="0.20"/>
<rect x="498.50" y="226.65" width="9.00" height="1.70" fill="#050505" opacity="0.25"/>
<rect x="509.50" y="226.65" width="9.00" height="1.70" fill="#050505" opacity="0.10"/>
<rect x="465.50" y="234.20" width="9.00" height="2.00" fill="#050505" opacity="0.90"/>
<rect x="476.50" y="234.20" width="9.00" height="2.00" fill="#050505" opacity="0.50"/>
<rect x="487.40" y="234.20" width="9.00" height="2.00" fill="#050505" opacity="0.55"/>
<rect x="498.50" y="234.20" width="9.00" height="2.00" fill="#050505" opacity="0.70"/>
<rect x="509.50" y="234.20" width="9.00" height="2.00" fill="#050505" opacity="0.25"/>
</g>
<text x="3.80" y="365.40" font-size="7.9" text-anchor="start" fill="#111" stroke="#111" stroke-width="0.15">AR</text>
<text x="3.80" y="384.00" font-size="7.9" text-anchor="start" fill="#111" stroke="#111" stroke-width="0.15">LAMIN A/C</text>
<rect x="45.10" y="356.20" width="58.50" height="14.00" fill="#ececec"/>
<g filter="url(#b1)">
<rect x="46.70" y="362.70" width="8.60" height="2.20" fill="#050505" opacity="0.68"/>
<rect x="57.70" y="364.00" width="8.60" height="2.20" fill="#050505" opacity="1.00"/>
<rect x="68.80" y="364.00" width="8.60" height="2.20" fill="#050505" opacity="0.30"/>
<rect x="80.20" y="364.00" width="8.60" height="2.20" fill="#050505" opacity="0.25"/>
<rect x="91.40" y="363.90" width="8.60" height="2.20" fill="#050505" opacity="0.36"/>
</g>
<rect x="45.10" y="372.70" width="58.50" height="15.30" fill="#f2f2f2"/>
<g filter="url(#b1)">
<rect x="46.70" y="376.55" width="8.60" height="1.70" fill="#050505" opacity="0.30"/>
<rect x="57.70" y="376.55" width="8.60" height="1.70" fill="#050505" opacity="0.60"/>
<rect x="68.80" y="376.55" width="8.60" height="1.70" fill="#050505" opacity="0.30"/>
<rect x="80.20" y="376.55" width="8.60" height="1.70" fill="#050505" opacity="0.30"/>
<rect x="91.40" y="376.55" width="8.60" height="1.70" fill="#050505" opacity="0.50"/>
<rect x="46.70" y="383.20" width="8.60" height="2.00" fill="#050505" opacity="0.45"/>
<rect x="57.70" y="383.20" width="8.60" height="2.00" fill="#050505" opacity="0.68"/>
<rect x="68.80" y="383.20" width="8.60" height="2.00" fill="#050505" opacity="0.40"/>
<rect x="80.20" y="383.20" width="8.60" height="2.00" fill="#050505" opacity="0.40"/>
<rect x="91.40" y="383.20" width="8.60" height="2.00" fill="#050505" opacity="0.52"/>
</g>
<text x="145.60" y="366.40" font-size="7.9" text-anchor="start" fill="#111" stroke="#111" stroke-width="0.15">AR</text>
<text x="145.60" y="384.20" font-size="7.9" text-anchor="start" fill="#111" stroke="#111" stroke-width="0.15">LAMIN A/C</text>
<rect x="187.00" y="355.80" width="59.20" height="14.40" fill="#ececec"/>
<g filter="url(#b1)">
<rect x="189.20" y="363.45" width="9.00" height="2.50" fill="#050505" opacity="1.00"/>
<rect x="200.70" y="363.45" width="9.00" height="2.50" fill="#050505" opacity="1.00"/>
<rect x="211.90" y="363.45" width="9.00" height="2.50" fill="#050505" opacity="0.60"/>
<rect x="223.60" y="363.45" width="9.00" height="2.50" fill="#050505" opacity="0.10"/>
<rect x="235.60" y="363.45" width="9.00" height="2.50" fill="#050505" opacity="0.18"/>
</g>
<rect x="187.00" y="372.70" width="59.20" height="15.30" fill="#f2f2f2"/>
<g filter="url(#b1)">
<rect x="189.20" y="376.05" width="9.00" height="1.70" fill="#050505" opacity="0.55"/>
<rect x="200.70" y="376.05" width="9.00" height="1.70" fill="#050505" opacity="0.78"/>
<rect x="211.90" y="376.05" width="9.00" height="1.70" fill="#050505" opacity="0.45"/>
<rect x="223.60" y="376.05" width="9.00" height="1.70" fill="#050505" opacity="0.30"/>
<rect x="235.60" y="376.05" width="9.00" height="1.70" fill="#050505" opacity="0.78"/>
<rect x="189.20" y="382.80" width="9.00" height="2.00" fill="#050505" opacity="0.60"/>
<rect x="200.70" y="382.80" width="9.00" height="2.00" fill="#050505" opacity="0.78"/>
<rect x="211.90" y="382.80" width="9.00" height="2.00" fill="#050505" opacity="0.50"/>
<rect x="223.60" y="382.80" width="9.00" height="2.00" fill="#050505" opacity="0.35"/>
<rect x="235.60" y="382.80" width="9.00" height="2.00" fill="#050505" opacity="0.72"/>
</g>
<text x="283.00" y="366.80" font-size="7.9" text-anchor="start" fill="#111" stroke="#111" stroke-width="0.15">AR</text>
<text x="283.00" y="384.20" font-size="7.9" text-anchor="start" fill="#111" stroke="#111" stroke-width="0.15">LAMIN A/C</text>
<rect x="323.70" y="356.20" width="59.80" height="14.60" fill="#f0f0f0"/>
<g filter="url(#b1)">
<rect x="326.00" y="363.50" width="9.00" height="2.00" fill="#050505" opacity="0.36"/>
<rect x="337.70" y="364.80" width="9.00" height="2.00" fill="#050505" opacity="0.48"/>
<rect x="349.50" y="364.50" width="9.00" height="2.00" fill="#050505" opacity="0.42"/>
<rect x="361.20" y="363.50" width="9.00" height="2.00" fill="#050505" opacity="0.48"/>
<rect x="373.10" y="364.10" width="9.00" height="2.00" fill="#050505" opacity="0.20"/>
</g>
<rect x="323.70" y="372.70" width="59.80" height="14.90" fill="#f0f0f0"/>
<g filter="url(#b1)">
<rect x="326.00" y="375.95" width="9.00" height="1.70" fill="#050505" opacity="0.82"/>
<rect x="337.70" y="376.55" width="9.00" height="1.70" fill="#050505" opacity="0.90"/>
<rect x="349.50" y="376.05" width="9.00" height="1.70" fill="#050505" opacity="0.50"/>
<rect x="361.20" y="375.35" width="9.00" height="1.70" fill="#050505" opacity="0.95"/>
<rect x="373.10" y="375.95" width="9.00" height="1.70" fill="#050505" opacity="0.45"/>
<rect x="326.00" y="382.95" width="9.00" height="1.70" fill="#050505" opacity="0.72"/>
<rect x="337.70" y="383.45" width="9.00" height="1.70" fill="#050505" opacity="0.90"/>
<rect x="349.50" y="382.95" width="9.00" height="1.70" fill="#050505" opacity="0.55"/>
<rect x="361.20" y="382.35" width="9.00" height="1.70" fill="#050505" opacity="0.95"/>
<rect x="373.10" y="382.95" width="9.00" height="1.70" fill="#050505" opacity="0.45"/>
</g>
<text x="422.60" y="367.00" font-size="7.9" text-anchor="start" fill="#111" stroke="#111" stroke-width="0.15">AR</text>
<text x="422.60" y="385.00" font-size="7.9" text-anchor="start" fill="#111" stroke="#111" stroke-width="0.15">LAMIN A/C</text>
<rect x="463.70" y="355.80" width="60.50" height="14.40" fill="#ececec"/>
<g filter="url(#b1)">
<rect x="467.80" y="364.00" width="9.00" height="2.20" fill="#050505" opacity="0.62"/>
<rect x="479.00" y="363.40" width="9.00" height="2.20" fill="#050505" opacity="0.46"/>
<rect x="490.40" y="362.70" width="9.00" height="2.20" fill="#050505" opacity="0.52"/>
<rect x="501.20" y="361.80" width="9.00" height="2.20" fill="#050505" opacity="0.30"/>
<rect x="512.70" y="362.70" width="9.00" height="2.20" fill="#050505" opacity="0.40"/>
</g>
<rect x="463.70" y="372.30" width="60.50" height="15.70" fill="#f1f1f1"/>
<g filter="url(#b1)">
<rect x="467.80" y="375.60" width="9.00" height="1.80" fill="#050505" opacity="0.90"/>
<rect x="479.00" y="375.60" width="9.00" height="1.80" fill="#050505" opacity="0.82"/>
<rect x="490.40" y="375.60" width="9.00" height="1.80" fill="#050505" opacity="0.50"/>
<rect x="501.20" y="375.60" width="9.00" height="1.80" fill="#050505" opacity="0.50"/>
<rect x="512.70" y="375.60" width="9.00" height="1.80" fill="#050505" opacity="0.90"/>
<rect x="467.80" y="382.95" width="9.00" height="1.70" fill="#050505" opacity="0.90"/>
<rect x="479.00" y="382.95" width="9.00" height="1.70" fill="#050505" opacity="0.82"/>
<rect x="490.40" y="382.95" width="9.00" height="1.70" fill="#050505" opacity="0.55"/>
<rect x="501.20" y="382.95" width="9.00" height="1.70" fill="#050505" opacity="0.55"/>
<rect x="512.70" y="382.95" width="9.00" height="1.70" fill="#050505" opacity="0.85"/>
</g>
<text x="5.00" y="514.40" font-size="7.9" text-anchor="start" fill="#111" stroke="#111" stroke-width="0.15">AR</text>
<text x="5.00" y="532.20" font-size="7.9" text-anchor="start" fill="#111" stroke="#111" stroke-width="0.15">LAMIN A/C</text>
<rect x="46.00" y="504.80" width="59.20" height="14.00" fill="#e5e5e5"/>
<g filter="url(#b1)">
<rect x="48.20" y="512.45" width="8.60" height="2.50" fill="#050505" opacity="1.00"/>
<rect x="59.20" y="512.45" width="8.60" height="2.50" fill="#050505" opacity="1.00"/>
<rect x="70.70" y="512.45" width="8.60" height="2.50" fill="#050505" opacity="0.40"/>
<rect x="82.20" y="512.45" width="8.60" height="2.50" fill="#050505" opacity="0.30"/>
<rect x="94.20" y="512.45" width="8.60" height="2.50" fill="#050505" opacity="0.46"/>
</g>
<rect x="46.00" y="521.10" width="59.20" height="14.60" fill="#f1f1f1"/>
<g filter="url(#b1)">
<rect x="48.20" y="525.05" width="8.60" height="1.70" fill="#050505" opacity="0.42"/>
<rect x="59.20" y="525.05" width="8.60" height="1.70" fill="#050505" opacity="0.58"/>
<rect x="70.70" y="525.05" width="8.60" height="1.70" fill="#050505" opacity="0.35"/>
<rect x="82.20" y="525.05" width="8.60" height="1.70" fill="#050505" opacity="0.30"/>
<rect x="94.20" y="525.05" width="8.60" height="1.70" fill="#050505" opacity="0.46"/>
<rect x="48.20" y="531.80" width="8.60" height="2.00" fill="#050505" opacity="0.42"/>
<rect x="59.20" y="531.80" width="8.60" height="2.00" fill="#050505" opacity="0.58"/>
<rect x="70.70" y="531.80" width="8.60" height="2.00" fill="#050505" opacity="0.40"/>
<rect x="82.20" y="531.80" width="8.60" height="2.00" fill="#050505" opacity="0.35"/>
<rect x="94.20" y="531.80" width="8.60" height="2.00" fill="#050505" opacity="0.50"/>
</g>
<text x="146.20" y="515.00" font-size="7.9" text-anchor="start" fill="#111" stroke="#111" stroke-width="0.15">AR</text>
<text x="146.20" y="532.20" font-size="7.9" text-anchor="start" fill="#111" stroke="#111" stroke-width="0.15">LAMIN A/C</text>
<rect x="187.40" y="504.80" width="58.80" height="14.00" fill="#ededed"/>
<g filter="url(#b1)">
<rect x="188.90" y="511.80" width="9.00" height="2.80" fill="#050505" opacity="1.00"/>
<rect x="200.30" y="511.40" width="9.00" height="2.80" fill="#050505" opacity="1.00"/>
<rect x="211.80" y="511.00" width="9.00" height="2.80" fill="#050505" opacity="1.00"/>
<rect x="223.20" y="510.50" width="9.00" height="2.00" fill="#050505" opacity="0.46"/>
<rect x="235.10" y="510.90" width="9.00" height="2.00" fill="#050505" opacity="0.30"/>
</g>
<rect x="187.40" y="521.30" width="58.80" height="14.80" fill="#f2f2f2"/>
<g filter="url(#b1)">
<rect x="188.90" y="525.35" width="9.00" height="1.70" fill="#050505" opacity="0.50"/>
<rect x="200.30" y="525.35" width="9.00" height="1.70" fill="#050505" opacity="0.46"/>
<rect x="211.80" y="525.35" width="9.00" height="1.70" fill="#050505" opacity="0.50"/>
<rect x="223.20" y="525.35" width="9.00" height="1.70" fill="#050505" opacity="0.35"/>
<rect x="235.10" y="525.35" width="9.00" height="1.70" fill="#050505" opacity="0.56"/>
<rect x="188.90" y="532.20" width="9.00" height="2.00" fill="#050505" opacity="0.30"/>
<rect x="200.30" y="532.20" width="9.00" height="2.00" fill="#050505" opacity="0.30"/>
<rect x="211.80" y="532.20" width="9.00" height="2.00" fill="#050505" opacity="0.35"/>
<rect x="223.20" y="532.20" width="9.00" height="2.00" fill="#050505" opacity="0.20"/>
<rect x="235.10" y="532.20" width="9.00" height="2.00" fill="#050505" opacity="0.40"/>
</g>
<text x="283.00" y="514.50" font-size="7.9" text-anchor="start" fill="#111" stroke="#111" stroke-width="0.15">AR</text>
<text x="283.00" y="531.60" font-size="7.9" text-anchor="start" fill="#111" stroke="#111" stroke-width="0.15">LAMIN A/C</text>
<rect x="323.70" y="504.80" width="59.50" height="14.00" fill="#dadada"/>
<g filter="url(#b1)">
<rect x="325.50" y="511.00" width="9.20" height="2.40" fill="#050505" opacity="1.00"/>
<rect x="337.20" y="510.30" width="9.20" height="2.40" fill="#050505" opacity="0.92"/>
<rect x="348.70" y="510.30" width="9.20" height="2.40" fill="#050505" opacity="1.00"/>
<rect x="360.50" y="509.70" width="9.20" height="2.40" fill="#050505" opacity="0.35"/>
<rect x="372.60" y="510.30" width="9.20" height="2.40" fill="#050505" opacity="0.12"/>
</g>
<rect x="323.70" y="521.70" width="59.50" height="14.40" fill="#f3f3f3"/>
<g filter="url(#b1)">
<rect x="325.50" y="525.00" width="9.20" height="2.40" fill="#050505" opacity="1.00"/>
<rect x="337.20" y="524.30" width="9.20" height="2.40" fill="#050505" opacity="1.00"/>
<rect x="348.70" y="523.70" width="9.20" height="2.40" fill="#050505" opacity="1.00"/>
<rect x="360.50" y="523.70" width="9.20" height="2.40" fill="#050505" opacity="1.00"/>
<rect x="372.60" y="524.30" width="9.20" height="2.40" fill="#050505" opacity="0.82"/>
<rect x="325.50" y="532.10" width="9.20" height="2.20" fill="#050505" opacity="1.00"/>
<rect x="337.20" y="531.40" width="9.20" height="2.20" fill="#050505" opacity="1.00"/>
<rect x="348.70" y="530.80" width="9.20" height="2.20" fill="#050505" opacity="0.95"/>
<rect x="360.50" y="530.80" width="9.20" height="2.20" fill="#050505" opacity="0.88"/>
<rect x="372.60" y="531.40" width="9.20" height="2.20" fill="#050505" opacity="0.60"/>
</g>
<text x="422.60" y="515.20" font-size="7.9" text-anchor="start" fill="#111" stroke="#111" stroke-width="0.15">AR</text>
<text x="422.60" y="533.60" font-size="7.9" text-anchor="start" fill="#111" stroke="#111" stroke-width="0.15">LAMIN A/C</text>
<rect x="465.00" y="505.20" width="59.20" height="14.60" fill="#eeeeee"/>
<g filter="url(#b1)">
<rect x="466.20" y="511.20" width="9.00" height="3.40" fill="#050505" opacity="1.00"/>
<rect x="477.90" y="511.20" width="9.00" height="2.60" fill="#050505" opacity="0.92"/>
<rect x="490.00" y="510.60" width="9.00" height="2.80" fill="#050505" opacity="1.00"/>
<rect x="501.20" y="510.30" width="9.00" height="1.80" fill="#050505" opacity="0.40"/>
<rect x="512.70" y="510.30" width="9.00" height="1.80" fill="#050505" opacity="0.40"/>
</g>
<rect x="465.00" y="521.70" width="59.20" height="14.70" fill="#f2f2f2"/>
<g filter="url(#b1)">
<rect x="466.20" y="525.05" width="9.00" height="1.70" fill="#050505" opacity="0.68"/>
<rect x="477.90" y="525.05" width="9.00" height="1.70" fill="#050505" opacity="0.46"/>
<rect x="490.00" y="525.05" width="9.00" height="1.70" fill="#050505" opacity="0.30"/>
<rect x="501.20" y="525.05" width="9.00" height="1.70" fill="#050505" opacity="0.40"/>
<rect x="512.70" y="525.05" width="9.00" height="1.70" fill="#050505" opacity="0.46"/>
<rect x="466.20" y="531.80" width="9.00" height="2.00" fill="#050505" opacity="0.46"/>
<rect x="477.90" y="531.80" width="9.00" height="2.00" fill="#050505" opacity="0.35"/>
<rect x="490.00" y="531.80" width="9.00" height="2.00" fill="#050505" opacity="0.20"/>
<rect x="501.20" y="531.80" width="9.00" height="2.00" fill="#050505" opacity="0.25"/>
<rect x="512.70" y="531.80" width="9.00" height="2.00" fill="#050505" opacity="0.30"/>
</g>
</svg>
</body>
</html>
